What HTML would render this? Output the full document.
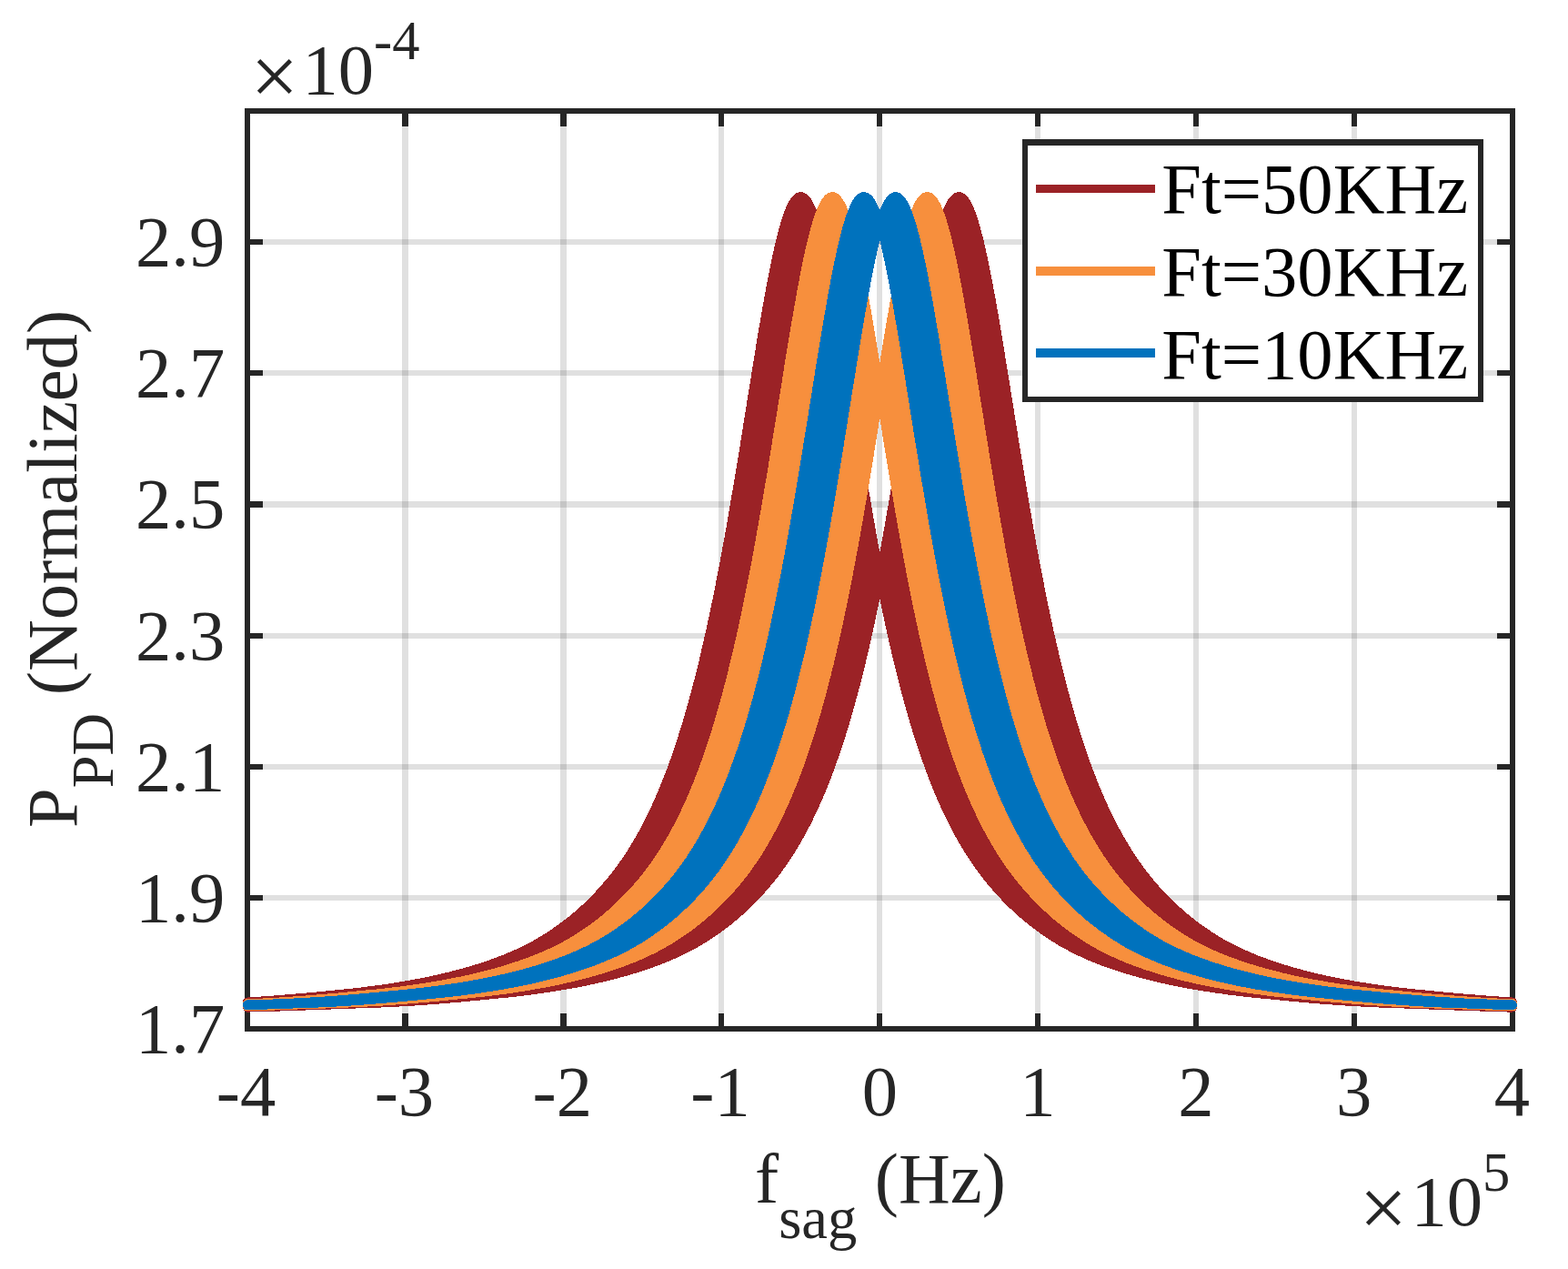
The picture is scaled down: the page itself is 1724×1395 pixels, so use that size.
<!DOCTYPE html>
<html lang="en"><head><meta charset="utf-8"><title>P_PD (Normalized) vs f_sag (Hz)</title>
<style>html,body{margin:0;padding:0;background:#fff}body{width:1724px;height:1395px;overflow:hidden}svg{display:block}text{font-family:"Liberation Serif",serif;fill:#262626;font-size:78.60px}.s{font-size:64.50px}.p{font-size:60.50px}.x{font-size:93.50px}.lg{fill:#000;font-size:78.60px}</style></head><body>
<svg width="1724" height="1395" viewBox="0 0 1724 1395">
<rect width="1724" height="1395" fill="#fff"/>
<g fill="#262626" fill-opacity="0.140" shape-rendering="crispEdges">
<path d="M442 125H449V1128H442ZM616 125H623V1128H616ZM790 125H796V1128H790ZM964 125H970V1128H964ZM1138 125H1144V1128H1138ZM1312 125H1318V1128H1312ZM1486 125H1492V1128H1486Z"/>
<path d="M275 984H1660V990H275ZM275 840H1660V846H275ZM275 696H1660V702H275ZM275 551H1660V558H275ZM275 407H1660V413H275ZM275 263H1660V269H275Z"/>
</g>
<path d="M269 119H1666V125H269ZM269 1128H1666V1134H269ZM269 119H275V1134H269ZM1660 119H1666V1134H1660ZM442 125H449V139H442ZM442 1114H449V1128H442ZM616 125H623V139H616ZM616 1114H623V1128H616ZM790 125H796V139H790ZM790 1114H796V1128H790ZM964 125H970V139H964ZM964 1114H970V1128H964ZM1138 125H1144V139H1138ZM1138 1114H1144V1128H1138ZM1312 125H1318V139H1312ZM1312 1114H1318V1128H1312ZM1486 125H1492V139H1486ZM1486 1114H1492V1128H1486ZM275 984H289V990H275ZM1646 984H1660V990H1646ZM275 840H289V846H275ZM1646 840H1660V846H1646ZM275 696H289V702H275ZM1646 696H1660V702H1646ZM275 551H289V558H275ZM1646 551H1660V558H1646ZM275 407H289V413H275ZM1646 407H1660V413H1646ZM275 263H289V269H275ZM1646 263H1660V269H1646Z" fill="#262626" shape-rendering="crispEdges"/>
<path d="M272 1101.3L274.8 1101.1L277.6 1101L280.3 1100.8L283.1 1100.6L285.9 1100.4L288.7 1100.2L291.5 1100L294.3 1099.8L297 1099.6L299.8 1099.4L302.6 1099.2L305.4 1099L308.2 1098.7L310.9 1098.5L313.7 1098.3L316.5 1098.1L319.3 1097.8L322.1 1097.6L324.9 1097.4L327.6 1097.1L330.4 1096.9L333.2 1096.6L336 1096.4L338.8 1096.1L341.6 1095.9L344.3 1095.6L347.1 1095.4L349.9 1095.1L352.7 1094.8L355.5 1094.5L358.2 1094.3L361 1094L363.8 1093.7L366.6 1093.5L369.4 1093.2L372.2 1092.9L374.9 1092.7L377.7 1092.4L380.5 1092.1L383.3 1091.8L386.1 1091.5L388.8 1091.2L391.6 1090.9L394.4 1090.6L397.2 1090.3L400 1089.9L402.8 1089.6L405.5 1089.2L408.3 1088.9L411.1 1088.5L413.9 1088.1L416.7 1087.8L419.4 1087.4L422.2 1087L425 1086.6L427.8 1086.2L430.6 1085.7L433.4 1085.3L436.1 1084.9L438.9 1084.4L441.7 1084L444.5 1083.5L447.3 1083L450 1082.5L452.8 1082L455.6 1081.5L458.4 1081L461.2 1080.5L464 1080L466.7 1079.4L469.5 1078.9L472.3 1078.3L475.1 1077.7L477.9 1077.1L480.6 1076.5L483.4 1075.8L486.2 1075.2L489 1074.5L491.8 1073.9L494.6 1073.2L497.3 1072.5L500.1 1071.8L502.9 1071.1L505.7 1070.3L508.5 1069.6L511.3 1068.8L514 1068L516.8 1067.2L519.6 1066.4L522.4 1065.5L525.2 1064.7L527.9 1063.8L530.7 1062.9L533.5 1062L536.3 1061L539.1 1060.1L541.9 1059.1L544.6 1058.1L547.4 1057L550.2 1056L553 1054.9L555.8 1053.8L558.5 1052.7L561.3 1051.5L564.1 1050.3L566.9 1049.1L569.7 1047.8L572.5 1046.5L575.2 1045.2L578 1043.9L580.8 1042.5L583.6 1041L586.4 1039.6L589.1 1038L591.9 1036.4L594.7 1034.8L597.5 1033.1L600.3 1031.4L603.1 1029.6L605.8 1027.8L608.6 1025.9L611.4 1024L614.2 1022.1L617 1020.1L619.8 1018L622.5 1016L625.3 1013.8L628.1 1011.6L630.9 1009.3L633.7 1007L636.4 1004.6L639.2 1002.2L642 999.7L644.8 997.1L647.6 994.4L650.4 991.7L653.1 988.9L655.9 986L658.7 983.1L661.5 980.1L664.3 977L667 973.8L669.8 970.6L672.6 967.2L675.4 963.7L678.2 960.2L681 956.5L683.7 952.6L686.5 948.7L689.3 944.6L692.1 940.4L694.9 936.1L697.6 931.6L700.4 927L703.2 922.2L706 917.2L708.8 912.1L711.6 906.8L714.3 901.3L717.1 895.6L719.9 889.8L722.7 883.7L725.5 877.4L728.2 870.9L731 864.2L733.8 857.2L736.6 850L739.4 842.5L742.2 834.8L744.9 826.7L747.7 818.4L750.5 809.8L753.3 800.9L756.1 791.7L758.9 782.2L761.6 772.3L764.4 762.1L767.2 751.5L770 740.6L772.8 729.3L775.5 717.6L778.3 705.5L781.1 693.1L783.9 680.3L786.7 667L789.5 653.4L792.2 639.4L795 624.9L797.8 610.1L800.6 595L803.4 579.4L806.1 563.5L808.9 547.3L811.7 530.8L814.5 514.1L817.3 497.1L820.1 479.9L822.8 462.6L825.6 445.2L828.4 427.8L831.2 410.5L834 393.3L836.7 376.3L839.5 359.7L842.3 343.4L845.1 327.7L847.9 312.6L850.4 299.7L850.7 298.2L850.9 297.1L851.4 294.7L851.9 292.2L852.4 289.8L852.9 287.3L853.4 285L853.4 284.6L853.9 282.6L854.4 280.3L854.9 278L855.4 275.8L855.9 273.6L856.2 272L856.4 271.4L856.9 269.2L857.4 267.1L857.9 265L858.4 263L858.9 261L859 260.4L859.4 259L859.9 257.1L860.4 255.2L860.9 253.3L861.4 251.5L861.8 250L861.9 249.7L862.4 248L862.9 246.3L863.4 244.7L863.9 243.1L864.4 241.5L864.6 240.9L864.9 240L865.4 238.5L865.9 237L866.4 235.6L866.9 234.3L867.3 233L867.4 233L867.9 231.7L868.4 230.5L868.9 229.3L869.4 228.2L869.9 227.2L870.1 226.6L870.4 226.1L870.9 225.2L871.4 224.2L871.9 223.3L872.4 222.5L872.9 221.7L872.9 221.6L873.4 221L873.9 220.3L874.4 219.7L874.9 219.1L875.4 218.6L875.7 218.2L875.9 218.1L876.4 217.6L876.9 217.3L877.4 216.9L877.9 216.6L878.4 216.4L878.5 216.4L878.9 216.2L879.4 216.1L879.9 216L880.4 216L880.9 216L881.3 216.1L881.4 216.1L881.9 216.2L882.4 216.4L882.9 216.6L883.4 216.9L883.9 217.3L884 217.4L884.4 217.6L884.9 218.1L885.4 218.6L885.9 219.1L886.4 219.7L886.8 220.3L886.9 220.3L887.4 221L887.9 221.7L888.4 222.5L888.9 223.3L889.4 224.2L889.6 224.7L889.9 225.2L890.4 226.1L890.9 227.2L891.4 228.2L891.9 229.3L892.4 230.5L892.4 230.6L892.9 231.7L893.4 233L893.9 234.3L894.4 235.6L894.9 237L895.2 237.9L895.4 238.5L895.9 240L896.4 241.5L896.9 243.1L897.4 244.7L897.9 246.3L898 246.6L898.4 248L898.9 249.7L899.4 251.5L899.9 253.3L900.4 255.2L900.7 256.6L900.9 257.1L901.4 259L901.9 261L902.4 263L902.9 265L903.4 267.1L903.5 267.8L903.9 269.2L904.4 271.4L904.9 273.6L905.4 275.8L905.9 278L906.3 280L906.4 280.3L906.9 282.6L907.4 285L907.9 287.3L908.4 289.8L908.9 292.2L909.1 293.2L909.4 294.7L909.9 297.1L910.4 299.7L911.9 307.4L914.6 322.2L917.4 337.8L920.2 353.8L923 370.4L925.8 387.2L928.6 404.3L931.3 421.6L934.1 439L936.9 456.4L937.3 458.9L937.8 462L938.3 465.2L938.8 468.3L939.3 471.4L939.7 473.7L939.8 474.5L940.3 477.6L940.8 480.7L941.3 483.8L941.8 486.9L942.3 490L942.5 491L942.8 493.1L943.3 496.1L943.8 499.2L944.3 502.3L944.8 505.3L945.2 508L945.3 508.4L945.8 511.4L946.3 514.5L946.8 517.5L947.3 520.5L947.8 523.5L948 524.9L948.3 526.5L948.8 529.5L949.3 532.5L949.8 535.5L950.3 538.5L950.8 541.4L950.8 541.5L951.3 544.4L951.8 547.3L952.3 550.3L952.8 553.2L953.3 556.1L953.6 557.8L953.8 559L954.3 561.9L954.8 564.8L955.3 567.7L955.8 570.5L956.3 573.4L956.4 573.8L956.8 576.2L957.3 579.1L957.8 581.9L958.3 584.7L958.8 587.5L959.2 589.5L959.3 590.3L959.8 593L960.3 595.8L960.8 598.6L961.3 601.3L961.8 604L961.9 604.8L962.3 606.7L962.8 609.4L963.3 612.1L963.8 614.8L964.3 617.5L964.7 619.7L964.8 620.1L965.3 622.8L965.8 625.4L966.3 628L966.8 630.6L967.3 633.2L967.5 632.2L967.8 630.6L968.3 628L968.8 625.4L969.3 622.8L969.8 620.1L970.3 617.6L970.3 617.5L970.8 614.8L971.3 612.1L971.8 609.4L972.3 606.7L972.8 604L973.1 602.6L973.3 601.3L973.8 598.6L974.3 595.8L974.8 593L975.3 590.3L975.8 587.5L975.8 587.2L976.3 584.7L976.8 581.9L977.3 579.1L977.8 576.2L978.3 573.4L978.6 571.5L978.8 570.5L979.3 567.7L979.8 564.8L980.3 561.9L980.8 559L981.3 556.1L981.4 555.5L981.8 553.2L982.3 550.3L982.8 547.3L983.3 544.4L983.8 541.4L984.2 539.1L984.3 538.5L984.8 535.5L985.3 532.5L985.8 529.5L986.3 526.5L986.8 523.5L987 522.5L987.3 520.5L987.8 517.5L988.3 514.5L988.8 511.4L989.3 508.4L989.8 505.6L989.8 505.3L990.3 502.3L990.8 499.2L991.3 496.1L991.8 493.1L992.3 490L992.5 488.5L992.8 486.9L993.3 483.8L993.8 480.7L994.3 477.6L994.8 474.5L995.3 471.4L995.3 471.3L995.8 468.3L996.3 465.2L996.8 462L997.3 458.9L998.1 453.9L1000.9 436.5L1003.7 419.1L1006.4 401.9L1009.2 384.8L1012 368L1014.8 351.5L1017.6 335.5L1020.4 320L1023.1 305.3L1024.2 299.7L1024.7 297.1L1025.2 294.7L1025.7 292.2L1025.9 291.3L1026.2 289.8L1026.7 287.3L1027.2 285L1027.7 282.6L1028.2 280.3L1028.7 278.2L1028.7 278L1029.2 275.8L1029.7 273.6L1030.2 271.4L1030.7 269.2L1031.2 267.1L1031.5 266.1L1031.7 265L1032.2 263L1032.7 261L1033.2 259L1033.7 257.1L1034.2 255.2L1034.3 255.1L1034.7 253.3L1035.2 251.5L1035.7 249.7L1036.2 248L1036.7 246.3L1037 245.3L1037.2 244.7L1037.7 243.1L1038.2 241.5L1038.7 240L1039.2 238.5L1039.7 237L1039.8 236.8L1040.2 235.6L1040.7 234.3L1041.2 233L1041.7 231.7L1042.2 230.5L1042.6 229.6L1042.7 229.3L1043.2 228.2L1043.7 227.2L1044.2 226.1L1044.7 225.2L1045.2 224.2L1045.4 223.9L1045.7 223.3L1046.2 222.5L1046.7 221.7L1047.2 221L1047.7 220.3L1048.2 219.7L1048.2 219.7L1048.7 219.1L1049.2 218.6L1049.7 218.1L1050.2 217.6L1050.7 217.3L1051 217.1L1051.2 216.9L1051.7 216.6L1052.2 216.4L1052.7 216.2L1053.2 216.1L1053.7 216L1053.7 216L1054.2 216L1054.7 216L1055.2 216.1L1055.7 216.2L1056.2 216.4L1056.5 216.5L1056.7 216.6L1057.2 216.9L1057.7 217.3L1058.2 217.6L1058.7 218.1L1059.2 218.6L1059.3 218.6L1059.7 219.1L1060.2 219.7L1060.7 220.3L1061.2 221L1061.7 221.7L1062.1 222.3L1062.2 222.5L1062.7 223.3L1063.2 224.2L1063.7 225.2L1064.2 226.1L1064.7 227.2L1064.9 227.4L1065.2 228.2L1065.7 229.3L1066.2 230.5L1066.7 231.7L1067.2 233L1067.7 234.1L1067.7 234.3L1068.2 235.6L1068.7 237L1069.2 238.5L1069.7 240L1070.2 241.5L1070.4 242.1L1070.7 243.1L1071.2 244.7L1071.7 246.3L1072.2 248L1072.7 249.7L1073.2 251.4L1073.2 251.5L1073.7 253.3L1074.2 255.2L1074.7 257.1L1075.2 259L1075.7 261L1076 262L1076.2 263L1076.7 265L1077.2 267.1L1077.7 269.2L1078.2 271.4L1078.7 273.6L1078.8 273.8L1079.2 275.8L1079.7 278L1080.2 280.3L1080.7 282.6L1081.2 285L1081.6 286.5L1081.7 287.3L1082.2 289.8L1082.7 292.2L1083.2 294.7L1083.7 297.1L1084.2 299.7L1084.3 300.2L1087.1 314.7L1089.9 329.9L1092.7 345.7L1095.5 362L1098.3 378.8L1101 395.8L1103.8 413L1106.6 430.3L1109.4 447.7L1112.2 465.1L1114.9 482.4L1117.7 499.5L1120.5 516.5L1123.3 533.2L1126.1 549.7L1128.9 565.8L1131.6 581.7L1134.4 597.2L1137.2 612.3L1140 627L1142.8 641.4L1145.5 655.4L1148.3 668.9L1151.1 682.1L1153.9 694.9L1156.7 707.3L1159.5 719.3L1162.2 730.9L1165 742.2L1167.8 753.1L1170.6 763.6L1173.4 773.7L1176.2 783.6L1178.9 793.1L1181.7 802.2L1184.5 811.1L1187.3 819.6L1190.1 827.9L1192.8 835.9L1195.6 843.6L1198.4 851L1201.2 858.2L1204 865.2L1206.8 871.9L1209.5 878.3L1212.3 884.6L1215.1 890.6L1217.9 896.5L1220.7 902.1L1223.4 907.6L1226.2 912.8L1229 917.9L1231.8 922.9L1234.6 927.6L1237.4 932.3L1240.1 936.7L1242.9 941L1245.7 945.2L1248.5 949.3L1251.3 953.2L1254 957L1256.8 960.7L1259.6 964.2L1262.4 967.7L1265.2 971.1L1268 974.3L1270.7 977.5L1273.5 980.5L1276.3 983.5L1279.1 986.5L1281.9 989.3L1284.6 992.1L1287.4 994.8L1290.2 997.4L1293 1000L1295.8 1002.5L1298.6 1005L1301.3 1007.4L1304.1 1009.7L1306.9 1011.9L1309.7 1014.1L1312.5 1016.3L1315.2 1018.3L1318 1020.4L1320.8 1022.3L1323.6 1024.3L1326.4 1026.2L1329.2 1028.1L1331.9 1029.9L1334.7 1031.6L1337.5 1033.4L1340.3 1035L1343.1 1036.7L1345.9 1038.2L1348.6 1039.8L1351.4 1041.2L1354.2 1042.7L1357 1044.1L1359.8 1045.4L1362.5 1046.7L1365.3 1048L1368.1 1049.2L1370.9 1050.5L1373.7 1051.7L1376.5 1052.8L1379.2 1054L1382 1055.1L1384.8 1056.1L1387.6 1057.2L1390.4 1058.2L1393.1 1059.2L1395.9 1060.2L1398.7 1061.2L1401.5 1062.1L1404.3 1063L1407.1 1063.9L1409.8 1064.8L1412.6 1065.6L1415.4 1066.5L1418.2 1067.3L1421 1068.1L1423.7 1068.9L1426.5 1069.7L1429.3 1070.4L1432.1 1071.2L1434.9 1071.9L1437.7 1072.6L1440.4 1073.3L1443.2 1074L1446 1074.6L1448.8 1075.3L1451.6 1075.9L1454.3 1076.6L1457.1 1077.2L1459.9 1077.8L1462.7 1078.4L1465.5 1078.9L1468.3 1079.5L1471 1080L1473.8 1080.6L1476.6 1081.1L1479.4 1081.6L1482.2 1082.1L1485 1082.6L1487.7 1083.1L1490.5 1083.6L1493.3 1084L1496.1 1084.5L1498.9 1084.9L1501.6 1085.4L1504.4 1085.8L1507.2 1086.2L1510 1086.6L1512.8 1087L1515.6 1087.4L1518.3 1087.8L1521.1 1088.2L1523.9 1088.6L1526.7 1088.9L1529.5 1089.3L1532.2 1089.6L1535 1090L1537.8 1090.3L1540.6 1090.7L1543.4 1091L1546.2 1091.3L1548.9 1091.6L1551.7 1091.9L1554.5 1092.2L1557.3 1092.4L1560.1 1092.7L1562.8 1093L1565.6 1093.2L1568.4 1093.5L1571.2 1093.8L1574 1094L1576.8 1094.3L1579.5 1094.6L1582.3 1094.9L1585.1 1095.1L1587.9 1095.4L1590.7 1095.7L1593.5 1095.9L1596.2 1096.2L1599 1096.4L1601.8 1096.7L1604.6 1096.9L1607.4 1097.2L1610.1 1097.4L1612.9 1097.6L1615.7 1097.9L1618.5 1098.1L1621.3 1098.3L1624.1 1098.6L1626.8 1098.8L1629.6 1099L1632.4 1099.2L1635.2 1099.4L1638 1099.6L1640.7 1099.8L1643.5 1100L1646.3 1100.2L1649.1 1100.4L1651.9 1100.6L1654.7 1100.8L1657.4 1101L1660.2 1101.2L1663 1101.3L1663 1107.8L1660.2 1107.7L1657.4 1107.7L1654.7 1107.6L1651.9 1107.5L1649.1 1107.4L1646.3 1107.3L1643.5 1107.2L1640.7 1107.1L1638 1107L1635.2 1107L1632.4 1106.9L1629.6 1106.8L1626.8 1106.7L1624.1 1106.6L1621.3 1106.5L1618.5 1106.4L1615.7 1106.3L1612.9 1106.2L1610.1 1106.1L1607.4 1106L1604.6 1105.9L1601.8 1105.8L1599 1105.7L1596.2 1105.6L1593.5 1105.5L1590.7 1105.4L1587.9 1105.3L1585.1 1105.2L1582.3 1105.1L1579.5 1105L1576.8 1104.9L1574 1104.8L1571.2 1104.7L1568.4 1104.6L1565.6 1104.5L1562.8 1104.4L1560.1 1104.3L1557.3 1104.2L1554.5 1104.1L1551.7 1104L1548.9 1103.9L1546.2 1103.8L1543.4 1103.7L1540.6 1103.6L1537.8 1103.5L1535 1103.4L1532.2 1103.4L1529.5 1103.2L1526.7 1103.1L1523.9 1103L1521.1 1102.9L1518.3 1102.8L1515.6 1102.7L1512.8 1102.6L1510 1102.5L1507.2 1102.3L1504.4 1102.2L1501.6 1102L1498.9 1101.9L1496.1 1101.7L1493.3 1101.6L1490.5 1101.4L1487.7 1101.2L1485 1101.1L1482.2 1100.9L1479.4 1100.7L1476.6 1100.5L1473.8 1100.3L1471 1100.1L1468.3 1099.9L1465.5 1099.7L1462.7 1099.5L1459.9 1099.3L1457.1 1099.1L1454.3 1098.9L1451.6 1098.7L1448.8 1098.4L1446 1098.2L1443.2 1098L1440.4 1097.8L1437.7 1097.5L1434.9 1097.3L1432.1 1097L1429.3 1096.8L1426.5 1096.5L1423.7 1096.3L1421 1096L1418.2 1095.8L1415.4 1095.5L1412.6 1095.3L1409.8 1095L1407.1 1094.7L1404.3 1094.5L1401.5 1094.2L1398.7 1093.9L1395.9 1093.6L1393.1 1093.4L1390.4 1093.1L1387.6 1092.8L1384.8 1092.6L1382 1092.3L1379.2 1092L1376.5 1091.7L1373.7 1091.4L1370.9 1091.1L1368.1 1090.8L1365.3 1090.5L1362.5 1090.2L1359.8 1089.8L1357 1089.5L1354.2 1089.1L1351.4 1088.8L1348.6 1088.4L1345.9 1088L1343.1 1087.6L1340.3 1087.2L1337.5 1086.8L1334.7 1086.4L1331.9 1086L1329.2 1085.6L1326.4 1085.1L1323.6 1084.7L1320.8 1084.3L1318 1083.8L1315.2 1083.3L1312.5 1082.9L1309.7 1082.4L1306.9 1081.9L1304.1 1081.4L1301.3 1080.8L1298.6 1080.3L1295.8 1079.8L1293 1079.2L1290.2 1078.7L1287.4 1078.1L1284.6 1077.5L1281.9 1076.9L1279.1 1076.2L1276.3 1075.6L1273.5 1075L1270.7 1074.3L1268 1073.6L1265.2 1072.9L1262.4 1072.2L1259.6 1071.5L1256.8 1070.8L1254 1070L1251.3 1069.3L1248.5 1068.5L1245.7 1067.7L1242.9 1066.9L1240.1 1066.1L1237.4 1065.2L1234.6 1064.4L1231.8 1063.5L1229 1062.6L1226.2 1061.6L1223.4 1060.7L1220.7 1059.7L1217.9 1058.7L1215.1 1057.7L1212.3 1056.7L1209.5 1055.6L1206.8 1054.5L1204 1053.4L1201.2 1052.2L1198.4 1051.1L1195.6 1049.9L1192.8 1048.6L1190.1 1047.4L1187.3 1046.1L1184.5 1044.7L1181.7 1043.4L1178.9 1042L1176.2 1040.5L1173.4 1039L1170.6 1037.5L1167.8 1035.9L1165 1034.2L1162.2 1032.5L1159.5 1030.8L1156.7 1029L1153.9 1027.1L1151.1 1025.2L1148.3 1023.3L1145.5 1021.4L1142.8 1019.4L1140 1017.3L1137.2 1015.2L1134.4 1013L1131.6 1010.8L1128.9 1008.5L1126.1 1006.2L1123.3 1003.8L1120.5 1001.3L1117.7 998.7L1114.9 996.1L1112.2 993.5L1109.4 990.7L1106.6 987.9L1103.8 985L1101 982L1098.3 979L1095.5 975.9L1092.7 972.7L1089.9 969.4L1087.1 966L1084.3 962.5L1084.2 962.3L1083.7 961.7L1083.2 961.1L1082.7 960.4L1082.2 959.7L1081.7 959.1L1081.6 958.9L1081.2 958.4L1080.7 957.8L1080.2 957.1L1079.7 956.4L1079.2 955.7L1078.8 955.1L1078.7 955.1L1078.2 954.4L1077.7 953.7L1077.2 953L1076.7 952.3L1076.2 951.6L1076 951.3L1075.7 950.9L1075.2 950.2L1074.7 949.5L1074.2 948.7L1073.7 948L1073.2 947.3L1073.2 947.3L1072.7 946.6L1072.2 945.8L1071.7 945.1L1071.2 944.4L1070.7 943.6L1070.4 943.2L1070.2 942.9L1069.7 942.1L1069.2 941.3L1068.7 940.6L1068.2 939.8L1067.7 939L1067.7 938.9L1067.2 938.3L1066.7 937.5L1066.2 936.7L1065.7 935.9L1065.2 935.1L1064.9 934.5L1064.7 934.3L1064.2 933.5L1063.7 932.7L1063.2 931.9L1062.7 931L1062.2 930.2L1062.1 930L1061.7 929.4L1061.2 928.6L1060.7 927.7L1060.2 926.9L1059.7 926L1059.3 925.3L1059.2 925.2L1058.7 924.3L1058.2 923.4L1057.7 922.6L1057.2 921.7L1056.7 920.8L1056.5 920.4L1056.2 919.9L1055.7 919L1055.2 918.1L1054.7 917.2L1054.2 916.3L1053.7 915.4L1053.7 915.4L1053.2 914.5L1052.7 913.6L1052.2 912.6L1051.7 911.7L1051.2 910.8L1051 910.2L1050.7 909.8L1050.2 908.9L1049.7 907.9L1049.2 906.9L1048.7 906L1048.2 905L1048.2 904.9L1047.7 904L1047.2 903L1046.7 902L1046.2 901L1045.7 900L1045.4 899.3L1045.2 899L1044.7 898L1044.2 896.9L1043.7 895.9L1043.2 894.9L1042.7 893.8L1042.6 893.6L1042.2 892.8L1041.7 891.7L1041.2 890.7L1040.7 889.6L1040.2 888.5L1039.8 887.6L1039.7 887.4L1039.2 886.3L1038.7 885.2L1038.2 884.1L1037.7 883L1037.2 881.9L1037 881.5L1036.7 880.8L1036.2 879.7L1035.7 878.5L1035.2 877.4L1034.7 876.2L1034.3 875.1L1034.2 875.1L1033.7 873.9L1033.2 872.7L1032.7 871.5L1032.2 870.3L1031.7 869.1L1031.5 868.5L1031.2 867.9L1030.7 866.7L1030.2 865.5L1029.7 864.3L1029.2 863L1028.7 861.8L1028.7 861.7L1028.2 860.6L1027.7 859.3L1027.2 858L1026.7 856.8L1026.2 855.5L1025.9 854.7L1025.7 854.2L1025.2 852.9L1024.7 851.6L1024.2 850.3L1023.1 847.3L1020.4 839.8L1017.6 831.9L1014.8 823.8L1012 815.4L1009.2 806.7L1006.4 797.7L1003.7 788.4L1000.9 778.7L998.1 768.7L997.3 765.8L996.8 763.9L996.3 762L995.8 760.2L995.3 758.4L995.3 758.3L994.8 756.4L994.3 754.5L993.8 752.6L993.3 750.6L992.8 748.7L992.5 747.7L992.3 746.7L991.8 744.8L991.3 742.8L990.8 740.8L990.3 738.8L989.8 736.8L989.8 736.6L989.3 734.8L988.8 732.7L988.3 730.7L987.8 728.6L987.3 726.5L987 725.2L986.8 724.4L986.3 722.3L985.8 720.2L985.3 718.1L984.8 716L984.3 713.8L984.2 713.4L983.8 711.7L983.3 709.5L982.8 707.3L982.3 705.1L981.8 702.9L981.4 701.2L981.3 700.7L980.8 698.4L980.3 696.2L979.8 693.9L979.3 691.6L978.8 689.4L978.6 688.6L978.3 687.1L977.8 684.7L977.3 682.4L976.8 680.1L976.3 677.7L975.8 675.6L975.8 675.4L975.3 673L974.8 670.6L974.3 668.2L973.8 665.8L973.3 663.4L973.1 662.2L972.8 660.9L972.3 658.5L971.8 656L971.3 653.5L970.8 651L970.3 648.5L970.3 648.4L969.8 646L969.3 643.5L968.8 640.9L968.3 638.4L967.8 635.8L967.5 634.3L967.3 633.2L966.8 635.8L966.3 638.4L965.8 640.9L965.3 643.5L964.8 646L964.7 646.4L964.3 648.5L963.8 651L963.3 653.5L962.8 656L962.3 658.5L961.9 660.2L961.8 660.9L961.3 663.4L960.8 665.8L960.3 668.2L959.8 670.6L959.3 673L959.2 673.7L958.8 675.4L958.3 677.7L957.8 680.1L957.3 682.4L956.8 684.7L956.4 686.7L956.3 687.1L955.8 689.4L955.3 691.6L954.8 693.9L954.3 696.2L953.8 698.4L953.6 699.4L953.3 700.7L952.8 702.9L952.3 705.1L951.8 707.3L951.3 709.5L950.8 711.6L950.8 711.7L950.3 713.8L949.8 716L949.3 718.1L948.8 720.2L948.3 722.3L948 723.5L947.8 724.4L947.3 726.5L946.8 728.6L946.3 730.7L945.8 732.7L945.3 734.8L945.2 735L944.8 736.8L944.3 738.8L943.8 740.8L943.3 742.8L942.8 744.8L942.5 746.1L942.3 746.7L941.8 748.7L941.3 750.6L940.8 752.6L940.3 754.5L939.8 756.4L939.7 756.8L939.3 758.3L938.8 760.2L938.3 762L937.8 763.9L937.3 765.8L936.9 767.2L934.1 777.3L931.3 787L928.6 796.4L925.8 805.4L923 814.2L920.2 822.6L917.4 830.8L914.6 838.7L911.9 846.3L910.4 850.3L909.9 851.6L909.4 852.9L909.1 853.6L908.9 854.2L908.4 855.5L907.9 856.8L907.4 858L906.9 859.3L906.4 860.6L906.3 860.7L905.9 861.8L905.4 863L904.9 864.3L904.4 865.5L903.9 866.7L903.5 867.6L903.4 867.9L902.9 869.1L902.4 870.3L901.9 871.5L901.4 872.7L900.9 873.9L900.7 874.2L900.4 875.1L899.9 876.2L899.4 877.4L898.9 878.5L898.4 879.7L898 880.6L897.9 880.8L897.4 881.9L896.9 883L896.4 884.1L895.9 885.2L895.4 886.3L895.2 886.8L894.9 887.4L894.4 888.5L893.9 889.6L893.4 890.7L892.9 891.7L892.4 892.7L892.4 892.8L891.9 893.8L891.4 894.9L890.9 895.9L890.4 896.9L889.9 898L889.6 898.5L889.4 899L888.9 900L888.4 901L887.9 902L887.4 903L886.9 904L886.8 904.1L886.4 905L885.9 906L885.4 906.9L884.9 907.9L884.4 908.9L884 909.5L883.9 909.8L883.4 910.8L882.9 911.7L882.4 912.6L881.9 913.6L881.4 914.5L881.3 914.7L880.9 915.4L880.4 916.3L879.9 917.2L879.4 918.1L878.9 919L878.5 919.7L878.4 919.9L877.9 920.8L877.4 921.7L876.9 922.6L876.4 923.4L875.9 924.3L875.7 924.6L875.4 925.2L874.9 926L874.4 926.9L873.9 927.7L873.4 928.6L872.9 929.3L872.9 929.4L872.4 930.2L871.9 931L871.4 931.9L870.9 932.7L870.4 933.5L870.1 933.9L869.9 934.3L869.4 935.1L868.9 935.9L868.4 936.7L867.9 937.5L867.4 938.3L867.3 938.3L866.9 939L866.4 939.8L865.9 940.6L865.4 941.3L864.9 942.1L864.6 942.5L864.4 942.9L863.9 943.6L863.4 944.4L862.9 945.1L862.4 945.8L861.9 946.6L861.8 946.7L861.4 947.3L860.9 948L860.4 948.7L859.9 949.5L859.4 950.2L859 950.7L858.9 950.9L858.4 951.6L857.9 952.3L857.4 953L856.9 953.7L856.4 954.4L856.2 954.6L855.9 955.1L855.4 955.7L854.9 956.4L854.4 957.1L853.9 957.8L853.4 958.3L853.4 958.4L852.9 959.1L852.4 959.7L851.9 960.4L851.4 961.1L850.9 961.7L850.7 962L850.4 962.3L847.9 965.5L845.1 968.9L842.3 972.2L839.5 975.4L836.7 978.6L834 981.6L831.2 984.6L828.4 987.5L825.6 990.3L822.8 993.1L820.1 995.7L817.3 998.4L814.5 1000.9L811.7 1003.4L808.9 1005.8L806.1 1008.2L803.4 1010.5L800.6 1012.7L797.8 1014.9L795 1017L792.2 1019.1L789.5 1021.1L786.7 1023L783.9 1025L781.1 1026.9L778.3 1028.7L775.5 1030.5L772.8 1032.3L770 1034L767.2 1035.6L764.4 1037.2L761.6 1038.8L758.9 1040.3L756.1 1041.8L753.3 1043.2L750.5 1044.5L747.7 1045.9L744.9 1047.2L742.2 1048.4L739.4 1049.7L736.6 1050.9L733.8 1052.1L731 1053.2L728.2 1054.3L725.5 1055.4L722.7 1056.5L719.9 1057.6L717.1 1058.6L714.3 1059.6L711.6 1060.6L708.8 1061.5L706 1062.4L703.2 1063.3L700.4 1064.2L697.6 1065.1L694.9 1065.9L692.1 1066.8L689.3 1067.6L686.5 1068.4L683.7 1069.2L681 1069.9L678.2 1070.7L675.4 1071.4L672.6 1072.1L669.8 1072.8L667 1073.5L664.3 1074.2L661.5 1074.9L658.7 1075.5L655.9 1076.2L653.1 1076.8L650.4 1077.4L647.6 1078L644.8 1078.6L642 1079.1L639.2 1079.7L636.4 1080.2L633.7 1080.8L630.9 1081.3L628.1 1081.8L625.3 1082.3L622.5 1082.8L619.8 1083.3L617 1083.7L614.2 1084.2L611.4 1084.6L608.6 1085.1L605.8 1085.5L603.1 1085.9L600.3 1086.4L597.5 1086.8L594.7 1087.2L591.9 1087.6L589.1 1088L586.4 1088.3L583.6 1088.7L580.8 1089.1L578 1089.4L575.2 1089.8L572.5 1090.1L569.7 1090.4L566.9 1090.8L564.1 1091.1L561.3 1091.4L558.5 1091.7L555.8 1092L553 1092.3L550.2 1092.5L547.4 1092.8L544.6 1093.1L541.9 1093.3L539.1 1093.6L536.3 1093.9L533.5 1094.1L530.7 1094.4L527.9 1094.7L525.2 1095L522.4 1095.2L519.6 1095.5L516.8 1095.7L514 1096L511.3 1096.3L508.5 1096.5L505.7 1096.8L502.9 1097L500.1 1097.2L497.3 1097.5L494.6 1097.7L491.8 1098L489 1098.2L486.2 1098.4L483.4 1098.6L480.6 1098.9L477.9 1099.1L475.1 1099.3L472.3 1099.5L469.5 1099.7L466.7 1099.9L464 1100.1L461.2 1100.3L458.4 1100.5L455.6 1100.7L452.8 1100.9L450 1101L447.3 1101.2L444.5 1101.4L441.7 1101.6L438.9 1101.7L436.1 1101.9L433.4 1102L430.6 1102.2L427.8 1102.3L425 1102.4L422.2 1102.6L419.4 1102.7L416.7 1102.8L413.9 1102.9L411.1 1103L408.3 1103.1L405.5 1103.2L402.8 1103.3L400 1103.4L397.2 1103.5L394.4 1103.6L391.6 1103.7L388.8 1103.8L386.1 1103.9L383.3 1104L380.5 1104.1L377.7 1104.2L374.9 1104.3L372.2 1104.4L369.4 1104.5L366.6 1104.6L363.8 1104.7L361 1104.8L358.2 1104.9L355.5 1105L352.7 1105.1L349.9 1105.2L347.1 1105.3L344.3 1105.4L341.6 1105.5L338.8 1105.6L336 1105.7L333.2 1105.8L330.4 1105.9L327.6 1106L324.9 1106.1L322.1 1106.2L319.3 1106.3L316.5 1106.4L313.7 1106.5L310.9 1106.6L308.2 1106.7L305.4 1106.8L302.6 1106.8L299.8 1106.9L297 1107L294.3 1107.1L291.5 1107.2L288.7 1107.3L285.9 1107.4L283.1 1107.5L280.3 1107.6L277.6 1107.6L274.8 1107.7L272 1107.8Z" fill="#9b2226" stroke="#9b2226" stroke-width="9.60" stroke-linejoin="round" shape-rendering="crispEdges"/>
<path d="M272 1103L274.8 1102.9L277.6 1102.8L280.3 1102.7L283.1 1102.6L285.9 1102.4L288.7 1102.3L291.5 1102.2L294.3 1102L297 1101.9L299.8 1101.7L302.6 1101.6L305.4 1101.4L308.2 1101.2L310.9 1101L313.7 1100.9L316.5 1100.7L319.3 1100.5L322.1 1100.3L324.9 1100.1L327.6 1099.9L330.4 1099.7L333.2 1099.5L336 1099.3L338.8 1099.1L341.6 1098.9L344.3 1098.6L347.1 1098.4L349.9 1098.2L352.7 1098L355.5 1097.7L358.2 1097.5L361 1097.2L363.8 1097L366.6 1096.8L369.4 1096.5L372.2 1096.3L374.9 1096L377.7 1095.7L380.5 1095.5L383.3 1095.2L386.1 1095L388.8 1094.7L391.6 1094.4L394.4 1094.1L397.2 1093.9L400 1093.6L402.8 1093.3L405.5 1093.1L408.3 1092.8L411.1 1092.5L413.9 1092.3L416.7 1092L419.4 1091.7L422.2 1091.4L425 1091.1L427.8 1090.8L430.6 1090.4L433.4 1090.1L436.1 1089.8L438.9 1089.4L441.7 1089.1L444.5 1088.7L447.3 1088.3L450 1088L452.8 1087.6L455.6 1087.2L458.4 1086.8L461.2 1086.4L464 1085.9L466.7 1085.5L469.5 1085.1L472.3 1084.6L475.1 1084.2L477.9 1083.7L480.6 1083.3L483.4 1082.8L486.2 1082.3L489 1081.8L491.8 1081.3L494.6 1080.8L497.3 1080.2L500.1 1079.7L502.9 1079.1L505.7 1078.6L508.5 1078L511.3 1077.4L514 1076.8L516.8 1076.2L519.6 1075.5L522.4 1074.9L525.2 1074.2L527.9 1073.5L530.7 1072.8L533.5 1072.1L536.3 1071.4L539.1 1070.7L541.9 1069.9L544.6 1069.2L547.4 1068.4L550.2 1067.6L553 1066.8L555.8 1065.9L558.5 1065.1L561.3 1064.2L564.1 1063.3L566.9 1062.4L569.7 1061.5L572.5 1060.6L575.2 1059.6L578 1058.6L580.8 1057.6L583.6 1056.5L586.4 1055.4L589.1 1054.3L591.9 1053.2L594.7 1052.1L597.5 1050.9L600.3 1049.7L603.1 1048.4L605.8 1047.2L608.6 1045.9L611.4 1044.5L614.2 1043.2L617 1041.8L619.8 1040.3L622.5 1038.8L625.3 1037.2L628.1 1035.6L630.9 1034L633.7 1032.3L636.4 1030.5L639.2 1028.7L642 1026.9L644.8 1025L647.6 1023L650.4 1021.1L653.1 1019.1L655.9 1017L658.7 1014.9L661.5 1012.7L664.3 1010.5L667 1008.2L669.8 1005.8L672.6 1003.4L675.4 1000.9L678.2 998.4L681 995.7L683.7 993.1L686.5 990.3L689.3 987.5L692.1 984.6L694.9 981.6L697.6 978.6L700.4 975.4L703.2 972.2L706 968.9L708.8 965.5L711.6 962L714.3 958.3L717.1 954.6L719.9 950.7L722.7 946.7L725.5 942.5L728.2 938.3L731 933.9L733.8 929.3L736.6 924.6L739.4 919.7L742.2 914.7L744.9 909.5L747.7 904.1L750.5 898.5L753.3 892.7L756.1 886.8L758.9 880.6L761.6 874.2L764.4 867.6L767.2 860.7L770 853.6L772.8 846.3L775.5 838.7L778.3 830.8L781.1 822.6L783.9 814.2L786.7 805.4L789.5 796.4L792.2 787L795 777.3L797.8 767.2L800.6 756.8L803.4 746.1L806.1 735L808.9 723.5L811.7 711.6L814.5 699.4L817.3 686.7L820.1 673.7L822.8 660.2L825.6 646.4L828.4 632.2L831.2 617.6L834 602.6L836.7 587.2L839.5 571.5L842.3 555.5L845.1 539.1L847.9 522.5L850.7 505.6L853.4 488.5L856.2 471.3L859 453.9L861.8 436.5L864.6 419.1L867.3 401.9L870.1 384.8L872.9 368L875.7 351.5L878.5 335.5L881.3 320L884 305.3L885.1 299.7L885.6 297.1L886.1 294.7L886.6 292.2L886.8 291.3L887.1 289.8L887.6 287.3L888.1 285L888.6 282.6L889.1 280.3L889.6 278.2L889.6 278L890.1 275.8L890.6 273.6L891.1 271.4L891.6 269.2L892.1 267.1L892.4 266.1L892.6 265L893.1 263L893.6 261L894.1 259L894.6 257.1L895.1 255.2L895.2 255.1L895.6 253.3L896.1 251.5L896.6 249.7L897.1 248L897.6 246.3L898 245.3L898.1 244.7L898.6 243.1L899.1 241.5L899.6 240L900.1 238.5L900.6 237L900.7 236.8L901.1 235.6L901.6 234.3L902.1 233L902.6 231.7L903.1 230.5L903.5 229.6L903.6 229.3L904.1 228.2L904.6 227.2L905.1 226.1L905.6 225.2L906.1 224.2L906.3 223.9L906.6 223.3L907.1 222.5L907.6 221.7L908.1 221L908.6 220.3L909.1 219.7L909.1 219.7L909.6 219.1L910.1 218.6L910.6 218.1L911.1 217.6L911.6 217.3L911.9 217.1L912.1 216.9L912.6 216.6L913.1 216.4L913.6 216.2L914.1 216.1L914.6 216L914.6 216L915.1 216L915.6 216L916.1 216.1L916.6 216.2L917.1 216.4L917.4 216.5L917.6 216.6L918.1 216.9L918.6 217.3L919.1 217.6L919.6 218.1L920.1 218.6L920.2 218.6L920.6 219.1L921.1 219.7L921.6 220.3L922.1 221L922.6 221.7L923 222.3L923.1 222.5L923.6 223.3L924.1 224.2L924.6 225.2L925.1 226.1L925.6 227.2L925.8 227.4L926.1 228.2L926.6 229.3L927.1 230.5L927.6 231.7L928.1 233L928.6 234.1L928.6 234.3L929.1 235.6L929.6 237L930.1 238.5L930.6 240L931.1 241.5L931.3 242.1L931.6 243.1L932.1 244.7L932.6 246.3L933.1 248L933.6 249.7L934.1 251.4L934.1 251.5L934.6 253.3L935.1 255.2L935.6 257.1L936.1 259L936.6 261L936.9 262L937.1 263L937.3 263.7L937.6 265L937.8 265.7L938.1 267.1L938.3 267.8L938.6 269.2L938.8 269.9L939.1 271.4L939.3 272.1L939.6 273.6L939.7 273.8L939.8 274.3L940.1 275.8L940.3 276.5L940.6 278L940.8 278.8L941.1 280.3L941.3 281.1L941.6 282.6L941.8 283.4L942.1 285L942.3 285.7L942.5 286.5L942.6 287.3L942.8 288.1L943.1 289.8L943.3 290.5L943.6 292.2L943.8 293L944.1 294.7L944.3 295.5L944.6 297.1L944.8 298L945.1 299.7L945.2 300.2L945.3 300.5L945.8 303L946.3 305.6L946.8 308.2L947.3 310.8L947.8 313.5L948 314.7L948.3 316.2L948.8 318.9L949.3 321.6L949.8 324.3L950.3 327.1L950.8 329.9L950.8 329.9L951.3 332.7L951.8 335.5L952.3 338.3L952.8 341.2L953.3 344.1L953.6 345.7L953.8 346.9L954.3 349.9L954.8 352.8L955.3 355.7L955.8 358.7L956.3 361.6L956.4 362L956.8 364.6L957.3 367.6L957.8 370.6L958.3 373.6L958.8 376.6L959.2 378.8L959.3 379.6L959.8 382.7L960.3 385.7L960.8 388.8L961.3 391.8L961.8 394.9L961.9 395.8L962.3 398L962.8 401.1L963.3 404.2L963.8 407.3L964.3 410.4L964.7 413L964.8 413.5L965.3 416.6L965.8 419.7L966.3 422.8L966.8 425.9L967.3 429.1L967.5 427.8L967.8 425.9L968.3 422.8L968.8 419.7L969.3 416.6L969.8 413.5L970.3 410.5L970.3 410.4L970.8 407.3L971.3 404.2L971.8 401.1L972.3 398L972.8 394.9L973.1 393.3L973.3 391.8L973.8 388.8L974.3 385.7L974.8 382.7L975.3 379.6L975.8 376.6L975.8 376.3L976.3 373.6L976.8 370.6L977.3 367.6L977.8 364.6L978.3 361.6L978.6 359.7L978.8 358.7L979.3 355.7L979.8 352.8L980.3 349.9L980.8 346.9L981.3 344.1L981.4 343.4L981.8 341.2L982.3 338.3L982.8 335.5L983.3 332.7L983.8 329.9L984.2 327.7L984.3 327.1L984.8 324.3L985.3 321.6L985.8 318.9L986.3 316.2L986.8 313.5L987 312.6L987.3 310.8L987.8 308.2L988.3 305.6L988.8 303L989.3 300.5L989.5 299.7L989.8 298.2L989.8 298L990 297.1L990.3 295.5L990.5 294.7L990.8 293L991 292.2L991.3 290.5L991.5 289.8L991.8 288.1L992 287.3L992.3 285.7L992.5 285L992.5 284.6L992.8 283.4L993 282.6L993.3 281.1L993.5 280.3L993.8 278.8L994 278L994.3 276.5L994.5 275.8L994.8 274.3L995 273.6L995.3 272.1L995.3 272L995.5 271.4L995.8 269.9L996 269.2L996.3 267.8L996.5 267.1L996.8 265.7L997 265L997.3 263.7L997.5 263L998 261L998.1 260.4L998.5 259L999 257.1L999.5 255.2L1000 253.3L1000.5 251.5L1000.9 250L1001 249.7L1001.5 248L1002 246.3L1002.5 244.7L1003 243.1L1003.5 241.5L1003.7 240.9L1004 240L1004.5 238.5L1005 237L1005.5 235.6L1006 234.3L1006.4 233L1006.5 233L1007 231.7L1007.5 230.5L1008 229.3L1008.5 228.2L1009 227.2L1009.2 226.6L1009.5 226.1L1010 225.2L1010.5 224.2L1011 223.3L1011.5 222.5L1012 221.7L1012 221.6L1012.5 221L1013 220.3L1013.5 219.7L1014 219.1L1014.5 218.6L1014.8 218.2L1015 218.1L1015.5 217.6L1016 217.3L1016.5 216.9L1017 216.6L1017.5 216.4L1017.6 216.4L1018 216.2L1018.5 216.1L1019 216L1019.5 216L1020 216L1020.4 216.1L1020.5 216.1L1021 216.2L1021.5 216.4L1022 216.6L1022.5 216.9L1023 217.3L1023.1 217.4L1023.5 217.6L1024 218.1L1024.5 218.6L1025 219.1L1025.5 219.7L1025.9 220.3L1026 220.3L1026.5 221L1027 221.7L1027.5 222.5L1028 223.3L1028.5 224.2L1028.7 224.7L1029 225.2L1029.5 226.1L1030 227.2L1030.5 228.2L1031 229.3L1031.5 230.5L1031.5 230.6L1032 231.7L1032.5 233L1033 234.3L1033.5 235.6L1034 237L1034.3 237.9L1034.5 238.5L1035 240L1035.5 241.5L1036 243.1L1036.5 244.7L1037 246.3L1037 246.6L1037.5 248L1038 249.7L1038.5 251.5L1039 253.3L1039.5 255.2L1039.8 256.6L1040 257.1L1040.5 259L1041 261L1041.5 263L1042 265L1042.5 267.1L1042.6 267.8L1043 269.2L1043.5 271.4L1044 273.6L1044.5 275.8L1045 278L1045.4 280L1045.5 280.3L1046 282.6L1046.5 285L1047 287.3L1047.5 289.8L1048 292.2L1048.2 293.2L1048.5 294.7L1049 297.1L1049.5 299.7L1051 307.4L1053.7 322.2L1056.5 337.8L1059.3 353.8L1062.1 370.4L1064.9 387.2L1067.7 404.3L1070.4 421.6L1073.2 439L1076 456.4L1078.8 473.7L1081.6 491L1084.3 508L1087.1 524.9L1089.9 541.5L1092.7 557.8L1095.5 573.8L1098.3 589.5L1101 604.8L1103.8 619.7L1106.6 634.3L1109.4 648.4L1112.2 662.2L1114.9 675.6L1117.7 688.6L1120.5 701.2L1123.3 713.4L1126.1 725.2L1128.9 736.6L1131.6 747.7L1134.4 758.4L1137.2 768.7L1140 778.7L1142.8 788.4L1145.5 797.7L1148.3 806.7L1151.1 815.4L1153.9 823.8L1156.7 831.9L1159.5 839.8L1162.2 847.3L1165 854.7L1167.8 861.7L1170.6 868.5L1173.4 875.1L1176.2 881.5L1178.9 887.6L1181.7 893.6L1184.5 899.3L1187.3 904.9L1190.1 910.2L1192.8 915.4L1195.6 920.4L1198.4 925.3L1201.2 930L1204 934.5L1206.8 938.9L1209.5 943.2L1212.3 947.3L1215.1 951.3L1217.9 955.1L1220.7 958.9L1223.4 962.5L1226.2 966L1229 969.4L1231.8 972.7L1234.6 975.9L1237.4 979L1240.1 982L1242.9 985L1245.7 987.9L1248.5 990.7L1251.3 993.5L1254 996.1L1256.8 998.7L1259.6 1001.3L1262.4 1003.8L1265.2 1006.2L1268 1008.5L1270.7 1010.8L1273.5 1013L1276.3 1015.2L1279.1 1017.3L1281.9 1019.4L1284.6 1021.4L1287.4 1023.3L1290.2 1025.2L1293 1027.1L1295.8 1029L1298.6 1030.8L1301.3 1032.5L1304.1 1034.2L1306.9 1035.9L1309.7 1037.5L1312.5 1039L1315.2 1040.5L1318 1042L1320.8 1043.4L1323.6 1044.7L1326.4 1046.1L1329.2 1047.4L1331.9 1048.6L1334.7 1049.9L1337.5 1051.1L1340.3 1052.2L1343.1 1053.4L1345.9 1054.5L1348.6 1055.6L1351.4 1056.7L1354.2 1057.7L1357 1058.7L1359.8 1059.7L1362.5 1060.7L1365.3 1061.6L1368.1 1062.6L1370.9 1063.5L1373.7 1064.4L1376.5 1065.2L1379.2 1066.1L1382 1066.9L1384.8 1067.7L1387.6 1068.5L1390.4 1069.3L1393.1 1070L1395.9 1070.8L1398.7 1071.5L1401.5 1072.2L1404.3 1072.9L1407.1 1073.6L1409.8 1074.3L1412.6 1075L1415.4 1075.6L1418.2 1076.2L1421 1076.9L1423.7 1077.5L1426.5 1078.1L1429.3 1078.7L1432.1 1079.2L1434.9 1079.8L1437.7 1080.3L1440.4 1080.8L1443.2 1081.4L1446 1081.9L1448.8 1082.4L1451.6 1082.9L1454.3 1083.3L1457.1 1083.8L1459.9 1084.3L1462.7 1084.7L1465.5 1085.1L1468.3 1085.6L1471 1086L1473.8 1086.4L1476.6 1086.8L1479.4 1087.2L1482.2 1087.6L1485 1088L1487.7 1088.4L1490.5 1088.8L1493.3 1089.1L1496.1 1089.5L1498.9 1089.8L1501.6 1090.2L1504.4 1090.5L1507.2 1090.8L1510 1091.1L1512.8 1091.4L1515.6 1091.7L1518.3 1092L1521.1 1092.3L1523.9 1092.6L1526.7 1092.8L1529.5 1093.1L1532.2 1093.4L1535 1093.6L1537.8 1093.9L1540.6 1094.2L1543.4 1094.5L1546.2 1094.7L1548.9 1095L1551.7 1095.3L1554.5 1095.5L1557.3 1095.8L1560.1 1096L1562.8 1096.3L1565.6 1096.5L1568.4 1096.8L1571.2 1097L1574 1097.3L1576.8 1097.5L1579.5 1097.8L1582.3 1098L1585.1 1098.2L1587.9 1098.4L1590.7 1098.7L1593.5 1098.9L1596.2 1099.1L1599 1099.3L1601.8 1099.5L1604.6 1099.7L1607.4 1099.9L1610.1 1100.1L1612.9 1100.3L1615.7 1100.5L1618.5 1100.7L1621.3 1100.9L1624.1 1101.1L1626.8 1101.2L1629.6 1101.4L1632.4 1101.6L1635.2 1101.7L1638 1101.9L1640.7 1102L1643.5 1102.2L1646.3 1102.3L1649.1 1102.5L1651.9 1102.6L1654.7 1102.7L1657.4 1102.8L1660.2 1102.9L1663 1103L1663 1106.7L1660.2 1106.6L1657.4 1106.5L1654.7 1106.4L1651.9 1106.4L1649.1 1106.3L1646.3 1106.2L1643.5 1106.1L1640.7 1106L1638 1105.9L1635.2 1105.8L1632.4 1105.7L1629.6 1105.6L1626.8 1105.5L1624.1 1105.4L1621.3 1105.3L1618.5 1105.2L1615.7 1105.1L1612.9 1105L1610.1 1104.8L1607.4 1104.7L1604.6 1104.6L1601.8 1104.5L1599 1104.4L1596.2 1104.3L1593.5 1104.2L1590.7 1104.2L1587.9 1104.1L1585.1 1104L1582.3 1103.9L1579.5 1103.8L1576.8 1103.7L1574 1103.6L1571.2 1103.5L1568.4 1103.4L1565.6 1103.3L1562.8 1103.2L1560.1 1103.1L1557.3 1103L1554.5 1102.9L1551.7 1102.8L1548.9 1102.6L1546.2 1102.5L1543.4 1102.4L1540.6 1102.3L1537.8 1102.1L1535 1102L1532.2 1101.8L1529.5 1101.7L1526.7 1101.5L1523.9 1101.3L1521.1 1101.2L1518.3 1101L1515.6 1100.8L1512.8 1100.6L1510 1100.4L1507.2 1100.2L1504.4 1100L1501.6 1099.8L1498.9 1099.6L1496.1 1099.4L1493.3 1099.2L1490.5 1099L1487.7 1098.8L1485 1098.6L1482.2 1098.3L1479.4 1098.1L1476.6 1097.9L1473.8 1097.6L1471 1097.4L1468.3 1097.2L1465.5 1096.9L1462.7 1096.7L1459.9 1096.4L1457.1 1096.2L1454.3 1095.9L1451.6 1095.7L1448.8 1095.4L1446 1095.1L1443.2 1094.9L1440.4 1094.6L1437.7 1094.3L1434.9 1094L1432.1 1093.8L1429.3 1093.5L1426.5 1093.2L1423.7 1093L1421 1092.7L1418.2 1092.4L1415.4 1092.2L1412.6 1091.9L1409.8 1091.6L1407.1 1091.3L1404.3 1091L1401.5 1090.7L1398.7 1090.3L1395.9 1090L1393.1 1089.6L1390.4 1089.3L1387.6 1088.9L1384.8 1088.6L1382 1088.2L1379.2 1087.8L1376.5 1087.4L1373.7 1087L1370.9 1086.6L1368.1 1086.2L1365.3 1085.8L1362.5 1085.4L1359.8 1084.9L1357 1084.5L1354.2 1084L1351.4 1083.6L1348.6 1083.1L1345.9 1082.6L1343.1 1082.1L1340.3 1081.6L1337.5 1081.1L1334.7 1080.6L1331.9 1080L1329.2 1079.5L1326.4 1078.9L1323.6 1078.4L1320.8 1077.8L1318 1077.2L1315.2 1076.6L1312.5 1075.9L1309.7 1075.3L1306.9 1074.6L1304.1 1074L1301.3 1073.3L1298.6 1072.6L1295.8 1071.9L1293 1071.2L1290.2 1070.4L1287.4 1069.7L1284.6 1068.9L1281.9 1068.1L1279.1 1067.3L1276.3 1066.5L1273.5 1065.6L1270.7 1064.8L1268 1063.9L1265.2 1063L1262.4 1062.1L1259.6 1061.2L1256.8 1060.2L1254 1059.2L1251.3 1058.2L1248.5 1057.2L1245.7 1056.1L1242.9 1055.1L1240.1 1054L1237.4 1052.8L1234.6 1051.7L1231.8 1050.5L1229 1049.2L1226.2 1048L1223.4 1046.7L1220.7 1045.4L1217.9 1044.1L1215.1 1042.7L1212.3 1041.2L1209.5 1039.8L1206.8 1038.2L1204 1036.7L1201.2 1035L1198.4 1033.4L1195.6 1031.6L1192.8 1029.9L1190.1 1028.1L1187.3 1026.2L1184.5 1024.3L1181.7 1022.3L1178.9 1020.4L1176.2 1018.3L1173.4 1016.3L1170.6 1014.1L1167.8 1011.9L1165 1009.7L1162.2 1007.4L1159.5 1005L1156.7 1002.5L1153.9 1000L1151.1 997.4L1148.3 994.8L1145.5 992.1L1142.8 989.3L1140 986.5L1137.2 983.5L1134.4 980.5L1131.6 977.5L1128.9 974.3L1126.1 971.1L1123.3 967.7L1120.5 964.2L1117.7 960.7L1114.9 957L1112.2 953.2L1109.4 949.3L1106.6 945.2L1103.8 941L1101 936.7L1098.3 932.3L1095.5 927.6L1092.7 922.9L1089.9 917.9L1087.1 912.8L1084.3 907.6L1081.6 902.1L1078.8 896.5L1076 890.6L1073.2 884.6L1070.4 878.3L1067.7 871.9L1064.9 865.2L1062.1 858.2L1059.3 851L1056.5 843.6L1053.7 835.9L1051 827.9L1049.5 823.5L1049 822L1048.5 820.5L1048.2 819.6L1048 819L1047.5 817.5L1047 815.9L1046.5 814.4L1046 812.9L1045.5 811.3L1045.4 811.1L1045 809.7L1044.5 808.2L1044 806.6L1043.5 805L1043 803.4L1042.6 802.2L1042.5 801.7L1042 800.1L1041.5 798.5L1041 796.8L1040.5 795.2L1040 793.5L1039.8 793.1L1039.5 791.8L1039 790.1L1038.5 788.4L1038 786.7L1037.5 785L1037 783.6L1037 783.3L1036.5 781.5L1036 779.8L1035.5 778L1035 776.2L1034.5 774.4L1034.3 773.7L1034 772.6L1033.5 770.8L1033 769L1032.5 767.2L1032 765.3L1031.5 763.6L1031.5 763.5L1031 761.6L1030.5 759.7L1030 757.9L1029.5 756L1029 754.1L1028.7 753.1L1028.5 752.1L1028 750.2L1027.5 748.2L1027 746.3L1026.5 744.3L1026 742.3L1025.9 742.2L1025.5 740.3L1025 738.3L1024.5 736.3L1024 734.3L1023.5 732.3L1023.1 730.9L1023 730.2L1022.5 728.1L1022 726.1L1021.5 724L1021 721.9L1020.5 719.8L1020.4 719.3L1020 717.6L1019.5 715.5L1019 713.3L1018.5 711.2L1018 709L1017.6 707.3L1017.5 706.8L1017 704.6L1016.5 702.4L1016 700.2L1015.5 697.9L1015 695.7L1014.8 694.9L1014.5 693.4L1014 691.1L1013.5 688.8L1013 686.5L1012.5 684.2L1012 682.1L1012 681.9L1011.5 679.6L1011 677.2L1010.5 674.8L1010 672.5L1009.5 670.1L1009.2 668.9L1009 667.7L1008.5 665.2L1008 662.8L1007.5 660.4L1007 657.9L1006.5 655.4L1006.4 655.4L1006 653L1005.5 650.5L1005 648L1004.5 645.4L1004 642.9L1003.7 641.4L1003.5 640.4L1003 637.8L1002.5 635.2L1002 632.6L1001.5 630.1L1001 627.4L1000.9 627L1000.5 624.8L1000 622.2L999.5 619.5L999 616.9L998.5 614.2L998.1 612.3L998 611.5L997.5 608.8L997.3 608L997 606.1L996.8 605.3L996.5 603.4L996.3 602.5L996 600.7L995.8 599.8L995.5 597.9L995.3 597.2L995.3 597L995 595.2L994.8 594.3L994.5 592.4L994.3 591.5L994 589.6L993.8 588.7L993.5 586.9L993.3 585.9L993 584.1L992.8 583.1L992.5 581.7L992.5 581.2L992.3 580.3L992 578.4L991.8 577.5L991.5 575.6L991.3 574.7L991 572.7L990.8 571.8L990.5 569.9L990.3 569L990 567L989.8 566.1L989.8 565.8L989.5 564.1L989.3 563.2L988.8 560.3L988.3 557.4L987.8 554.5L987.3 551.6L987 549.7L986.8 548.7L986.3 545.7L985.8 542.8L985.3 539.8L984.8 536.8L984.3 533.9L984.2 533.2L983.8 530.9L983.3 527.9L982.8 524.9L982.3 521.9L981.8 518.8L981.4 516.5L981.3 515.8L980.8 512.8L980.3 509.7L979.8 506.7L979.3 503.6L978.8 500.6L978.6 499.5L978.3 497.5L977.8 494.4L977.3 491.4L976.8 488.3L976.3 485.2L975.8 482.4L975.8 482.1L975.3 479L974.8 475.9L974.3 472.8L973.8 469.7L973.3 466.6L973.1 465.1L972.8 463.4L972.3 460.3L971.8 457.2L971.3 454.1L970.8 451L970.3 447.8L970.3 447.7L969.8 444.7L969.3 441.6L968.8 438.4L968.3 435.3L967.8 432.2L967.5 430.3L967.3 429.1L966.8 432.2L966.3 435.3L965.8 438.4L965.3 441.6L964.8 444.7L964.7 445.2L964.3 447.8L963.8 451L963.3 454.1L962.8 457.2L962.3 460.3L961.9 462.6L961.8 463.4L961.3 466.6L960.8 469.7L960.3 472.8L959.8 475.9L959.3 479L959.2 479.9L958.8 482.1L958.3 485.2L957.8 488.3L957.3 491.4L956.8 494.4L956.4 497.1L956.3 497.5L955.8 500.6L955.3 503.6L954.8 506.7L954.3 509.7L953.8 512.8L953.6 514.1L953.3 515.8L952.8 518.8L952.3 521.9L951.8 524.9L951.3 527.9L950.8 530.8L950.8 530.9L950.3 533.9L949.8 536.8L949.3 539.8L948.8 542.8L948.3 545.7L948 547.3L947.8 548.7L947.3 551.6L946.8 554.5L946.3 557.4L945.8 560.3L945.3 563.2L945.2 563.5L945.1 564.1L944.8 566.1L944.6 567L944.3 569L944.1 569.9L943.8 571.8L943.6 572.7L943.3 574.7L943.1 575.6L942.8 577.5L942.6 578.4L942.5 579.4L942.3 580.3L942.1 581.2L941.8 583.1L941.6 584.1L941.3 585.9L941.1 586.9L940.8 588.7L940.6 589.6L940.3 591.5L940.1 592.4L939.8 594.3L939.7 595L939.6 595.2L939.3 597L939.1 597.9L938.8 599.8L938.6 600.7L938.3 602.5L938.1 603.4L937.8 605.3L937.6 606.1L937.3 608L937.1 608.8L936.9 610.1L936.6 611.5L936.1 614.2L935.6 616.9L935.1 619.5L934.6 622.2L934.1 624.8L934.1 624.9L933.6 627.4L933.1 630.1L932.6 632.6L932.1 635.2L931.6 637.8L931.3 639.4L931.1 640.4L930.6 642.9L930.1 645.4L929.6 648L929.1 650.5L928.6 653L928.6 653.4L928.1 655.4L927.6 657.9L927.1 660.4L926.6 662.8L926.1 665.2L925.8 667L925.6 667.7L925.1 670.1L924.6 672.5L924.1 674.8L923.6 677.2L923.1 679.6L923 680.3L922.6 681.9L922.1 684.2L921.6 686.5L921.1 688.8L920.6 691.1L920.2 693.1L920.1 693.4L919.6 695.7L919.1 697.9L918.6 700.2L918.1 702.4L917.6 704.6L917.4 705.5L917.1 706.8L916.6 709L916.1 711.2L915.6 713.3L915.1 715.5L914.6 717.6L914.6 717.6L914.1 719.8L913.6 721.9L913.1 724L912.6 726.1L912.1 728.1L911.9 729.3L911.6 730.2L911.1 732.3L910.6 734.3L910.1 736.3L909.6 738.3L909.1 740.3L909.1 740.6L908.6 742.3L908.1 744.3L907.6 746.3L907.1 748.2L906.6 750.2L906.3 751.5L906.1 752.1L905.6 754.1L905.1 756L904.6 757.9L904.1 759.7L903.6 761.6L903.5 762.1L903.1 763.5L902.6 765.3L902.1 767.2L901.6 769L901.1 770.8L900.7 772.3L900.6 772.6L900.1 774.4L899.6 776.2L899.1 778L898.6 779.8L898.1 781.5L898 782.2L897.6 783.3L897.1 785L896.6 786.7L896.1 788.4L895.6 790.1L895.2 791.7L895.1 791.8L894.6 793.5L894.1 795.2L893.6 796.8L893.1 798.5L892.6 800.1L892.4 800.9L892.1 801.7L891.6 803.4L891.1 805L890.6 806.6L890.1 808.2L889.6 809.7L889.6 809.8L889.1 811.3L888.6 812.9L888.1 814.4L887.6 815.9L887.1 817.5L886.8 818.4L886.6 819L886.1 820.5L885.6 822L885.1 823.5L884 826.7L881.3 834.8L878.5 842.5L875.7 850L872.9 857.2L870.1 864.2L867.3 870.9L864.6 877.4L861.8 883.7L859 889.8L856.2 895.6L853.4 901.3L850.7 906.8L847.9 912.1L845.1 917.2L842.3 922.2L839.5 927L836.7 931.6L834 936.1L831.2 940.4L828.4 944.6L825.6 948.7L822.8 952.6L820.1 956.5L817.3 960.2L814.5 963.7L811.7 967.2L808.9 970.6L806.1 973.8L803.4 977L800.6 980.1L797.8 983.1L795 986L792.2 988.9L789.5 991.7L786.7 994.4L783.9 997.1L781.1 999.7L778.3 1002.2L775.5 1004.6L772.8 1007L770 1009.3L767.2 1011.6L764.4 1013.8L761.6 1016L758.9 1018L756.1 1020.1L753.3 1022.1L750.5 1024L747.7 1025.9L744.9 1027.8L742.2 1029.6L739.4 1031.4L736.6 1033.1L733.8 1034.8L731 1036.4L728.2 1038L725.5 1039.6L722.7 1041L719.9 1042.5L717.1 1043.9L714.3 1045.2L711.6 1046.5L708.8 1047.8L706 1049.1L703.2 1050.3L700.4 1051.5L697.6 1052.7L694.9 1053.8L692.1 1054.9L689.3 1056L686.5 1057L683.7 1058.1L681 1059.1L678.2 1060.1L675.4 1061L672.6 1062L669.8 1062.9L667 1063.8L664.3 1064.7L661.5 1065.5L658.7 1066.4L655.9 1067.2L653.1 1068L650.4 1068.8L647.6 1069.6L644.8 1070.3L642 1071.1L639.2 1071.8L636.4 1072.5L633.7 1073.2L630.9 1073.9L628.1 1074.5L625.3 1075.2L622.5 1075.8L619.8 1076.5L617 1077.1L614.2 1077.7L611.4 1078.3L608.6 1078.9L605.8 1079.4L603.1 1080L600.3 1080.5L597.5 1081L594.7 1081.5L591.9 1082L589.1 1082.5L586.4 1083L583.6 1083.5L580.8 1084L578 1084.4L575.2 1084.9L572.5 1085.3L569.7 1085.7L566.9 1086.2L564.1 1086.6L561.3 1087L558.5 1087.4L555.8 1087.8L553 1088.1L550.2 1088.5L547.4 1088.9L544.6 1089.2L541.9 1089.6L539.1 1089.9L536.3 1090.3L533.5 1090.6L530.7 1090.9L527.9 1091.2L525.2 1091.5L522.4 1091.8L519.6 1092.1L516.8 1092.4L514 1092.7L511.3 1092.9L508.5 1093.2L505.7 1093.5L502.9 1093.7L500.1 1094L497.3 1094.3L494.6 1094.5L491.8 1094.8L489 1095.1L486.2 1095.4L483.4 1095.6L480.6 1095.9L477.9 1096.1L475.1 1096.4L472.3 1096.6L469.5 1096.9L466.7 1097.1L464 1097.4L461.2 1097.6L458.4 1097.8L455.6 1098.1L452.8 1098.3L450 1098.5L447.3 1098.7L444.5 1099L441.7 1099.2L438.9 1099.4L436.1 1099.6L433.4 1099.8L430.6 1100L427.8 1100.2L425 1100.4L422.2 1100.6L419.4 1100.8L416.7 1101L413.9 1101.1L411.1 1101.3L408.3 1101.5L405.5 1101.6L402.8 1101.8L400 1102L397.2 1102.1L394.4 1102.2L391.6 1102.4L388.8 1102.5L386.1 1102.6L383.3 1102.7L380.5 1102.9L377.7 1103L374.9 1103.1L372.2 1103.2L369.4 1103.3L366.6 1103.4L363.8 1103.5L361 1103.6L358.2 1103.7L355.5 1103.8L352.7 1103.9L349.9 1104L347.1 1104L344.3 1104.1L341.6 1104.2L338.8 1104.3L336 1104.4L333.2 1104.5L330.4 1104.6L327.6 1104.7L324.9 1104.8L322.1 1104.9L319.3 1105L316.5 1105.2L313.7 1105.3L310.9 1105.4L308.2 1105.5L305.4 1105.6L302.6 1105.7L299.8 1105.8L297 1105.9L294.3 1106L291.5 1106.1L288.7 1106.2L285.9 1106.2L283.1 1106.3L280.3 1106.4L277.6 1106.5L274.8 1106.6L272 1106.7Z" fill="#f78f3d" stroke="#f78f3d" stroke-width="9.60" stroke-linejoin="round" shape-rendering="crispEdges"/>
<path d="M272 1104.2L274.8 1104.1L277.6 1104L280.3 1104L283.1 1103.9L285.9 1103.8L288.7 1103.7L291.5 1103.6L294.3 1103.5L297 1103.4L299.8 1103.3L302.6 1103.2L305.4 1103.1L308.2 1103L310.9 1102.9L313.7 1102.7L316.5 1102.6L319.3 1102.5L322.1 1102.4L324.9 1102.2L327.6 1102.1L330.4 1102L333.2 1101.8L336 1101.6L338.8 1101.5L341.6 1101.3L344.3 1101.1L347.1 1101L349.9 1100.8L352.7 1100.6L355.5 1100.4L358.2 1100.2L361 1100L363.8 1099.8L366.6 1099.6L369.4 1099.4L372.2 1099.2L374.9 1099L377.7 1098.7L380.5 1098.5L383.3 1098.3L386.1 1098.1L388.8 1097.8L391.6 1097.6L394.4 1097.4L397.2 1097.1L400 1096.9L402.8 1096.6L405.5 1096.4L408.3 1096.1L411.1 1095.9L413.9 1095.6L416.7 1095.4L419.4 1095.1L422.2 1094.8L425 1094.5L427.8 1094.3L430.6 1094L433.4 1093.7L436.1 1093.5L438.9 1093.2L441.7 1092.9L444.5 1092.7L447.3 1092.4L450 1092.1L452.8 1091.8L455.6 1091.5L458.4 1091.2L461.2 1090.9L464 1090.6L466.7 1090.3L469.5 1089.9L472.3 1089.6L475.1 1089.2L477.9 1088.9L480.6 1088.5L483.4 1088.1L486.2 1087.8L489 1087.4L491.8 1087L494.6 1086.6L497.3 1086.2L500.1 1085.7L502.9 1085.3L505.7 1084.9L508.5 1084.4L511.3 1084L514 1083.5L516.8 1083L519.6 1082.5L522.4 1082L525.2 1081.5L527.9 1081L530.7 1080.5L533.5 1080L536.3 1079.4L539.1 1078.9L541.9 1078.3L544.6 1077.7L547.4 1077.1L550.2 1076.5L553 1075.8L555.8 1075.2L558.5 1074.5L561.3 1073.9L564.1 1073.2L566.9 1072.5L569.7 1071.8L572.5 1071.1L575.2 1070.3L578 1069.6L580.8 1068.8L583.6 1068L586.4 1067.2L589.1 1066.4L591.9 1065.5L594.7 1064.7L597.5 1063.8L600.3 1062.9L603.1 1062L605.8 1061L608.6 1060.1L611.4 1059.1L614.2 1058.1L617 1057L619.8 1056L622.5 1054.9L625.3 1053.8L628.1 1052.7L630.9 1051.5L633.7 1050.3L636.4 1049.1L639.2 1047.8L642 1046.5L644.8 1045.2L647.6 1043.9L650.4 1042.5L653.1 1041L655.9 1039.6L658.7 1038L661.5 1036.4L664.3 1034.8L667 1033.1L669.8 1031.4L672.6 1029.6L675.4 1027.8L678.2 1025.9L681 1024L683.7 1022.1L686.5 1020.1L689.3 1018L692.1 1016L694.9 1013.8L697.6 1011.6L700.4 1009.3L703.2 1007L706 1004.6L708.8 1002.2L711.6 999.7L714.3 997.1L717.1 994.4L719.9 991.7L722.7 988.9L725.5 986L728.2 983.1L731 980.1L733.8 977L736.6 973.8L739.4 970.6L742.2 967.2L744.9 963.7L747.7 960.2L750.5 956.5L753.3 952.6L756.1 948.7L758.9 944.6L761.6 940.4L764.4 936.1L767.2 931.6L770 927L772.8 922.2L775.5 917.2L778.3 912.1L781.1 906.8L783.9 901.3L786.7 895.6L789.5 889.8L792.2 883.7L795 877.4L797.8 870.9L800.6 864.2L803.4 857.2L806.1 850L808.9 842.5L811.7 834.8L814.5 826.7L817.3 818.4L820.1 809.8L822.8 800.9L825.6 791.7L828.4 782.2L831.2 772.3L834 762.1L836.7 751.5L839.5 740.6L842.3 729.3L845.1 717.6L847.9 705.5L850.7 693.1L853.4 680.3L856.2 667L859 653.4L861.8 639.4L864.6 624.9L867.3 610.1L870.1 595L872.9 579.4L875.7 563.5L878.5 547.3L881.3 530.8L884 514.1L886.8 497.1L889.6 479.9L892.4 462.6L895.2 445.2L898 427.8L900.7 410.5L903.5 393.3L906.3 376.3L909.1 359.7L911.9 343.4L914.6 327.7L917.4 312.6L919.9 299.7L920.2 298.2L920.4 297.1L920.9 294.7L921.4 292.2L921.9 289.8L922.4 287.3L922.9 285L923 284.6L923.4 282.6L923.9 280.3L924.4 278L924.9 275.8L925.4 273.6L925.8 272L925.9 271.4L926.4 269.2L926.9 267.1L927.4 265L927.9 263L928.4 261L928.6 260.4L928.9 259L929.4 257.1L929.9 255.2L930.4 253.3L930.9 251.5L931.3 250L931.4 249.7L931.9 248L932.4 246.3L932.9 244.7L933.4 243.1L933.9 241.5L934.1 240.9L934.4 240L934.9 238.5L935.4 237L935.9 235.6L936.4 234.3L936.9 233L936.9 233L937.3 232L937.4 231.7L937.8 230.8L937.9 230.5L938.3 229.6L938.4 229.3L938.8 228.5L938.9 228.2L939.3 227.4L939.4 227.2L939.7 226.6L939.8 226.4L939.9 226.1L940.3 225.4L940.4 225.2L940.8 224.4L940.9 224.2L941.3 223.5L941.4 223.3L941.8 222.7L941.9 222.5L942.3 221.9L942.4 221.7L942.5 221.6L942.8 221.2L942.9 221L943.3 220.5L943.4 220.3L943.8 219.8L943.9 219.7L944.3 219.2L944.4 219.1L944.8 218.7L944.9 218.6L945.2 218.2L945.3 218.2L945.4 218.1L945.8 217.7L945.9 217.6L946.3 217.3L946.4 217.3L946.8 217L946.9 216.9L947.3 216.7L947.4 216.6L947.8 216.5L947.9 216.4L948 216.4L948.3 216.3L948.4 216.2L948.8 216.1L948.9 216.1L949.3 216L949.4 216L949.8 216L949.9 216L950.3 216L950.4 216L950.8 216.1L950.8 216.1L950.9 216.1L951.3 216.2L951.4 216.2L951.8 216.4L951.9 216.4L952.3 216.6L952.4 216.6L952.8 216.9L952.9 216.9L953.3 217.2L953.4 217.3L953.6 217.4L953.8 217.5L953.9 217.6L954.3 218L954.4 218.1L954.7 218.3L954.8 218.4L954.9 218.6L955.2 218.8L955.3 219L955.4 219.1L955.7 219.4L955.8 219.5L955.9 219.7L956.2 220L956.3 220.2L956.4 220.3L956.4 220.3L956.7 220.7L956.8 220.8L956.9 221L957.2 221.4L957.3 221.6L957.4 221.7L957.7 222.1L957.8 222.3L957.9 222.5L958.2 223L958.3 223.1L958.4 223.3L958.7 223.8L958.8 224L958.9 224.2L959.2 224.7L959.2 224.7L959.3 224.9L959.4 225.2L959.7 225.7L959.8 225.9L959.9 226.1L960.2 226.7L960.3 226.9L960.4 227.2L960.7 227.7L960.8 228L960.9 228.2L961.2 228.8L961.3 229.1L961.4 229.3L961.7 230L961.8 230.2L961.9 230.5L961.9 230.6L962.2 231.2L962.3 231.4L962.4 231.7L962.7 232.4L962.8 232.7L962.9 233L963.2 233.7L963.3 234L963.4 234.3L963.7 235L963.8 235.3L963.9 235.6L964.2 236.4L964.3 236.7L964.4 237L964.7 237.8L964.7 237.9L964.8 238.1L964.9 238.5L965.2 239.3L965.3 239.6L965.4 240L965.7 240.8L965.8 241.1L965.9 241.5L966.2 242.3L966.3 242.7L966.4 243.1L966.7 243.9L966.8 244.3L966.9 244.7L967.2 245.6L967.3 245.9L967.4 245.6L967.5 245.3L967.7 244.7L967.8 244.3L967.9 243.9L968.2 243.1L968.3 242.7L968.4 242.3L968.7 241.5L968.8 241.1L968.9 240.8L969.2 240L969.3 239.6L969.4 239.3L969.7 238.5L969.8 238.1L969.9 237.8L970.2 237L970.3 236.8L970.3 236.7L970.4 236.4L970.7 235.6L970.8 235.3L970.9 235L971.2 234.3L971.3 234L971.4 233.7L971.7 233L971.8 232.7L971.9 232.4L972.2 231.7L972.3 231.4L972.4 231.2L972.7 230.5L972.8 230.2L972.9 230L973.1 229.6L973.2 229.3L973.3 229.1L973.4 228.8L973.7 228.2L973.8 228L973.9 227.7L974.2 227.2L974.3 226.9L974.4 226.7L974.7 226.1L974.8 225.9L974.9 225.7L975.2 225.2L975.3 224.9L975.4 224.7L975.7 224.2L975.8 224L975.8 223.9L975.9 223.8L976.2 223.3L976.3 223.1L976.4 223L976.7 222.5L976.8 222.3L976.9 222.1L977.2 221.7L977.3 221.6L977.4 221.4L977.7 221L977.8 220.8L977.9 220.7L978.2 220.3L978.3 220.2L978.4 220L978.6 219.7L978.7 219.7L978.8 219.5L978.9 219.4L979.2 219.1L979.3 219L979.4 218.8L979.7 218.6L979.8 218.4L979.9 218.3L980.2 218.1L980.3 218L980.7 217.6L980.8 217.5L981.2 217.3L981.3 217.2L981.4 217.1L981.7 216.9L981.8 216.9L982.2 216.6L982.3 216.6L982.7 216.4L982.8 216.4L983.2 216.2L983.3 216.2L983.7 216.1L983.8 216.1L984.2 216L984.2 216L984.3 216L984.7 216L984.8 216L985.2 216L985.3 216L985.7 216.1L985.8 216.1L986.2 216.2L986.3 216.3L986.7 216.4L986.8 216.5L987 216.5L987.2 216.6L987.3 216.7L987.7 216.9L987.8 217L988.2 217.3L988.3 217.3L988.7 217.6L988.8 217.7L989.2 218.1L989.3 218.2L989.7 218.6L989.8 218.6L989.8 218.7L990.2 219.1L990.3 219.2L990.7 219.7L990.8 219.8L991.2 220.3L991.3 220.5L991.7 221L991.8 221.2L992.2 221.7L992.3 221.9L992.5 222.3L992.7 222.5L992.8 222.7L993.2 223.3L993.3 223.5L993.7 224.2L993.8 224.4L994.2 225.2L994.3 225.4L994.7 226.1L994.8 226.4L995.2 227.2L995.3 227.4L995.3 227.4L995.7 228.2L995.8 228.5L996.2 229.3L996.3 229.6L996.7 230.5L996.8 230.8L997.2 231.7L997.3 232L997.7 233L998.1 234.1L998.2 234.3L998.7 235.6L999.2 237L999.7 238.5L1000.2 240L1000.7 241.5L1000.9 242.1L1001.2 243.1L1001.7 244.7L1002.2 246.3L1002.7 248L1003.2 249.7L1003.7 251.4L1003.7 251.5L1004.2 253.3L1004.7 255.2L1005.2 257.1L1005.7 259L1006.2 261L1006.4 262L1006.7 263L1007.2 265L1007.7 267.1L1008.2 269.2L1008.7 271.4L1009.2 273.6L1009.2 273.8L1009.7 275.8L1010.2 278L1010.7 280.3L1011.2 282.6L1011.7 285L1012 286.5L1012.2 287.3L1012.7 289.8L1013.2 292.2L1013.7 294.7L1014.2 297.1L1014.7 299.7L1014.8 300.2L1017.6 314.7L1020.4 329.9L1023.1 345.7L1025.9 362L1028.7 378.8L1031.5 395.8L1034.3 413L1037 430.3L1039.8 447.7L1042.6 465.1L1045.4 482.4L1048.2 499.5L1051 516.5L1053.7 533.2L1056.5 549.7L1059.3 565.8L1062.1 581.7L1064.9 597.2L1067.7 612.3L1070.4 627L1073.2 641.4L1076 655.4L1078.8 668.9L1081.6 682.1L1084.3 694.9L1087.1 707.3L1089.9 719.3L1092.7 730.9L1095.5 742.2L1098.3 753.1L1101 763.6L1103.8 773.7L1106.6 783.6L1109.4 793.1L1112.2 802.2L1114.9 811.1L1117.7 819.6L1120.5 827.9L1123.3 835.9L1126.1 843.6L1128.9 851L1131.6 858.2L1134.4 865.2L1137.2 871.9L1140 878.3L1142.8 884.6L1145.5 890.6L1148.3 896.5L1151.1 902.1L1153.9 907.6L1156.7 912.8L1159.5 917.9L1162.2 922.9L1165 927.6L1167.8 932.3L1170.6 936.7L1173.4 941L1176.2 945.2L1178.9 949.3L1181.7 953.2L1184.5 957L1187.3 960.7L1190.1 964.2L1192.8 967.7L1195.6 971.1L1198.4 974.3L1201.2 977.5L1204 980.5L1206.8 983.5L1209.5 986.5L1212.3 989.3L1215.1 992.1L1217.9 994.8L1220.7 997.4L1223.4 1000L1226.2 1002.5L1229 1005L1231.8 1007.4L1234.6 1009.7L1237.4 1011.9L1240.1 1014.1L1242.9 1016.3L1245.7 1018.3L1248.5 1020.4L1251.3 1022.3L1254 1024.3L1256.8 1026.2L1259.6 1028.1L1262.4 1029.9L1265.2 1031.6L1268 1033.4L1270.7 1035L1273.5 1036.7L1276.3 1038.2L1279.1 1039.8L1281.9 1041.2L1284.6 1042.7L1287.4 1044.1L1290.2 1045.4L1293 1046.7L1295.8 1048L1298.6 1049.2L1301.3 1050.5L1304.1 1051.7L1306.9 1052.8L1309.7 1054L1312.5 1055.1L1315.2 1056.1L1318 1057.2L1320.8 1058.2L1323.6 1059.2L1326.4 1060.2L1329.2 1061.2L1331.9 1062.1L1334.7 1063L1337.5 1063.9L1340.3 1064.8L1343.1 1065.6L1345.9 1066.5L1348.6 1067.3L1351.4 1068.1L1354.2 1068.9L1357 1069.7L1359.8 1070.4L1362.5 1071.2L1365.3 1071.9L1368.1 1072.6L1370.9 1073.3L1373.7 1074L1376.5 1074.6L1379.2 1075.3L1382 1075.9L1384.8 1076.6L1387.6 1077.2L1390.4 1077.8L1393.1 1078.4L1395.9 1078.9L1398.7 1079.5L1401.5 1080L1404.3 1080.6L1407.1 1081.1L1409.8 1081.6L1412.6 1082.1L1415.4 1082.6L1418.2 1083.1L1421 1083.6L1423.7 1084L1426.5 1084.5L1429.3 1084.9L1432.1 1085.4L1434.9 1085.8L1437.7 1086.2L1440.4 1086.6L1443.2 1087L1446 1087.4L1448.8 1087.8L1451.6 1088.2L1454.3 1088.6L1457.1 1088.9L1459.9 1089.3L1462.7 1089.6L1465.5 1090L1468.3 1090.3L1471 1090.7L1473.8 1091L1476.6 1091.3L1479.4 1091.6L1482.2 1091.9L1485 1092.2L1487.7 1092.4L1490.5 1092.7L1493.3 1093L1496.1 1093.2L1498.9 1093.5L1501.6 1093.8L1504.4 1094L1507.2 1094.3L1510 1094.6L1512.8 1094.9L1515.6 1095.1L1518.3 1095.4L1521.1 1095.7L1523.9 1095.9L1526.7 1096.2L1529.5 1096.4L1532.2 1096.7L1535 1096.9L1537.8 1097.2L1540.6 1097.4L1543.4 1097.6L1546.2 1097.9L1548.9 1098.1L1551.7 1098.3L1554.5 1098.6L1557.3 1098.8L1560.1 1099L1562.8 1099.2L1565.6 1099.4L1568.4 1099.6L1571.2 1099.8L1574 1100L1576.8 1100.2L1579.5 1100.4L1582.3 1100.6L1585.1 1100.8L1587.9 1101L1590.7 1101.2L1593.5 1101.3L1596.2 1101.5L1599 1101.7L1601.8 1101.8L1604.6 1102L1607.4 1102.1L1610.1 1102.3L1612.9 1102.4L1615.7 1102.5L1618.5 1102.6L1621.3 1102.8L1624.1 1102.9L1626.8 1103L1629.6 1103.1L1632.4 1103.2L1635.2 1103.3L1638 1103.4L1640.7 1103.5L1643.5 1103.6L1646.3 1103.7L1649.1 1103.8L1651.9 1103.9L1654.7 1104L1657.4 1104.1L1660.2 1104.2L1663 1104.2L1663 1105.5L1660.2 1105.4L1657.4 1105.3L1654.7 1105.2L1651.9 1105.1L1649.1 1105L1646.3 1104.9L1643.5 1104.8L1640.7 1104.7L1638 1104.6L1635.2 1104.5L1632.4 1104.4L1629.6 1104.3L1626.8 1104.2L1624.1 1104.1L1621.3 1104L1618.5 1103.9L1615.7 1103.8L1612.9 1103.7L1610.1 1103.6L1607.4 1103.5L1604.6 1103.4L1601.8 1103.4L1599 1103.2L1596.2 1103.1L1593.5 1103L1590.7 1102.9L1587.9 1102.8L1585.1 1102.7L1582.3 1102.6L1579.5 1102.5L1576.8 1102.3L1574 1102.2L1571.2 1102L1568.4 1101.9L1565.6 1101.7L1562.8 1101.6L1560.1 1101.4L1557.3 1101.2L1554.5 1101.1L1551.7 1100.9L1548.9 1100.7L1546.2 1100.5L1543.4 1100.3L1540.6 1100.1L1537.8 1099.9L1535 1099.7L1532.2 1099.5L1529.5 1099.3L1526.7 1099.1L1523.9 1098.9L1521.1 1098.7L1518.3 1098.4L1515.6 1098.2L1512.8 1098L1510 1097.8L1507.2 1097.5L1504.4 1097.3L1501.6 1097L1498.9 1096.8L1496.1 1096.5L1493.3 1096.3L1490.5 1096L1487.7 1095.8L1485 1095.5L1482.2 1095.3L1479.4 1095L1476.6 1094.7L1473.8 1094.5L1471 1094.2L1468.3 1093.9L1465.5 1093.6L1462.7 1093.4L1459.9 1093.1L1457.1 1092.8L1454.3 1092.6L1451.6 1092.3L1448.8 1092L1446 1091.7L1443.2 1091.4L1440.4 1091.1L1437.7 1090.8L1434.9 1090.5L1432.1 1090.2L1429.3 1089.8L1426.5 1089.5L1423.7 1089.1L1421 1088.8L1418.2 1088.4L1415.4 1088L1412.6 1087.6L1409.8 1087.2L1407.1 1086.8L1404.3 1086.4L1401.5 1086L1398.7 1085.6L1395.9 1085.1L1393.1 1084.7L1390.4 1084.3L1387.6 1083.8L1384.8 1083.3L1382 1082.9L1379.2 1082.4L1376.5 1081.9L1373.7 1081.4L1370.9 1080.8L1368.1 1080.3L1365.3 1079.8L1362.5 1079.2L1359.8 1078.7L1357 1078.1L1354.2 1077.5L1351.4 1076.9L1348.6 1076.2L1345.9 1075.6L1343.1 1075L1340.3 1074.3L1337.5 1073.6L1334.7 1072.9L1331.9 1072.2L1329.2 1071.5L1326.4 1070.8L1323.6 1070L1320.8 1069.3L1318 1068.5L1315.2 1067.7L1312.5 1066.9L1309.7 1066.1L1306.9 1065.2L1304.1 1064.4L1301.3 1063.5L1298.6 1062.6L1295.8 1061.6L1293 1060.7L1290.2 1059.7L1287.4 1058.7L1284.6 1057.7L1281.9 1056.7L1279.1 1055.6L1276.3 1054.5L1273.5 1053.4L1270.7 1052.2L1268 1051.1L1265.2 1049.9L1262.4 1048.6L1259.6 1047.4L1256.8 1046.1L1254 1044.7L1251.3 1043.4L1248.5 1042L1245.7 1040.5L1242.9 1039L1240.1 1037.5L1237.4 1035.9L1234.6 1034.2L1231.8 1032.5L1229 1030.8L1226.2 1029L1223.4 1027.1L1220.7 1025.2L1217.9 1023.3L1215.1 1021.4L1212.3 1019.4L1209.5 1017.3L1206.8 1015.2L1204 1013L1201.2 1010.8L1198.4 1008.5L1195.6 1006.2L1192.8 1003.8L1190.1 1001.3L1187.3 998.7L1184.5 996.1L1181.7 993.5L1178.9 990.7L1176.2 987.9L1173.4 985L1170.6 982L1167.8 979L1165 975.9L1162.2 972.7L1159.5 969.4L1156.7 966L1153.9 962.5L1151.1 958.9L1148.3 955.1L1145.5 951.3L1142.8 947.3L1140 943.2L1137.2 938.9L1134.4 934.5L1131.6 930L1128.9 925.3L1126.1 920.4L1123.3 915.4L1120.5 910.2L1117.7 904.9L1114.9 899.3L1112.2 893.6L1109.4 887.6L1106.6 881.5L1103.8 875.1L1101 868.5L1098.3 861.7L1095.5 854.7L1092.7 847.3L1089.9 839.8L1087.1 831.9L1084.3 823.8L1081.6 815.4L1078.8 806.7L1076 797.7L1073.2 788.4L1070.4 778.7L1067.7 768.7L1064.9 758.4L1062.1 747.7L1059.3 736.6L1056.5 725.2L1053.7 713.4L1051 701.2L1048.2 688.6L1045.4 675.6L1042.6 662.2L1039.8 648.4L1037 634.3L1034.3 619.7L1031.5 604.8L1028.7 589.5L1025.9 573.8L1023.1 557.8L1020.4 541.5L1017.6 524.9L1014.8 508L1014.7 507.4L1014.2 504.3L1013.7 501.3L1013.2 498.2L1012.7 495.1L1012.2 492.1L1012 491L1011.7 489L1011.2 485.9L1010.7 482.8L1010.2 479.7L1009.7 476.6L1009.2 473.7L1009.2 473.5L1008.7 470.4L1008.2 467.3L1007.7 464.1L1007.2 461L1006.7 457.9L1006.4 456.4L1006.2 454.8L1005.7 451.7L1005.2 448.5L1004.7 445.4L1004.2 442.3L1003.7 439.1L1003.7 439L1003.2 436L1002.7 432.9L1002.2 429.8L1001.7 426.7L1001.2 423.5L1000.9 421.6L1000.7 420.4L1000.2 417.3L999.7 414.2L999.2 411.1L998.7 408L998.2 404.9L998.1 404.3L997.7 401.8L997.3 399.4L997.2 398.7L996.8 396.3L996.7 395.6L996.3 393.2L996.2 392.5L995.8 390.2L995.7 389.5L995.3 387.2L995.3 387.1L995.2 386.4L994.8 384L994.7 383.4L994.3 381L994.2 380.3L993.8 378L993.7 377.3L993.3 374.9L993.2 374.3L992.8 371.9L992.7 371.3L992.5 370.4L992.3 368.9L992.2 368.3L991.8 365.9L991.7 365.3L991.3 363L991.2 362.3L990.8 360L990.7 359.3L990.3 357L990.2 356.4L989.8 354.1L989.8 353.8L989.7 353.4L989.3 351.2L989.2 350.5L988.8 348.3L988.7 347.6L988.3 345.4L988.2 344.7L987.8 342.5L987.7 341.8L987.3 339.6L987.2 339L987 337.8L986.8 336.8L986.7 336.1L986.3 333.9L986.2 333.3L985.8 331.1L985.7 330.5L985.3 328.3L985.2 327.7L984.8 325.6L984.7 324.9L984.3 322.8L984.2 322.2L984.2 322.2L983.8 320.1L983.7 319.5L983.3 317.4L983.2 316.8L982.8 314.7L982.7 314.1L982.3 312L982.2 311.4L981.8 309.4L981.7 308.8L981.4 307.4L981.3 306.8L981.2 306.2L980.8 304.2L980.7 303.6L980.3 301.6L980.2 301.1L979.9 299.7L979.8 299.1L979.7 298.5L979.4 297.1L979.3 296.6L979.2 296L978.9 294.7L978.8 294.1L978.7 293.5L978.6 293.2L978.4 292.2L978.3 291.6L978.2 291.1L977.9 289.8L977.8 289.2L977.7 288.7L977.4 287.3L977.3 286.8L977.2 286.3L976.9 285L976.8 284.4L976.7 283.9L976.4 282.6L976.3 282.1L976.2 281.6L975.9 280.3L975.8 280L975.8 279.8L975.7 279.3L975.4 278L975.3 277.5L975.2 277L974.9 275.8L974.8 275.3L974.7 274.8L974.4 273.6L974.3 273.1L974.2 272.6L973.9 271.4L973.8 270.9L973.7 270.4L973.4 269.2L973.3 268.8L973.2 268.3L973.1 267.8L972.9 267.1L972.8 266.6L972.7 266.2L972.4 265L972.3 264.6L972.2 264.1L971.9 263L971.8 262.5L971.7 262.1L971.4 261L971.3 260.5L971.2 260.1L970.9 259L970.8 258.6L970.7 258.1L970.4 257.1L970.3 256.7L970.3 256.6L970.2 256.2L969.9 255.2L969.8 254.8L969.7 254.4L969.4 253.3L969.3 252.9L969.2 252.5L968.9 251.5L968.8 251.1L968.7 250.7L968.4 249.7L968.3 249.4L968.2 249L967.9 248L967.8 247.6L967.7 247.2L967.5 246.6L967.4 246.3L967.3 245.9L967.2 246.3L966.9 247.2L966.8 247.6L966.7 248L966.4 249L966.3 249.4L966.2 249.7L965.9 250.7L965.8 251.1L965.7 251.5L965.4 252.5L965.3 252.9L965.2 253.3L964.9 254.4L964.8 254.8L964.7 255.1L964.7 255.2L964.4 256.2L964.3 256.7L964.2 257.1L963.9 258.1L963.8 258.6L963.7 259L963.4 260.1L963.3 260.5L963.2 261L962.9 262.1L962.8 262.5L962.7 263L962.4 264.1L962.3 264.6L962.2 265L961.9 266.1L961.9 266.2L961.8 266.6L961.7 267.1L961.4 268.3L961.3 268.8L961.2 269.2L960.9 270.4L960.8 270.9L960.7 271.4L960.4 272.6L960.3 273.1L960.2 273.6L959.9 274.8L959.8 275.3L959.7 275.8L959.4 277L959.3 277.5L959.2 278L959.2 278.2L958.9 279.3L958.8 279.8L958.7 280.3L958.4 281.6L958.3 282.1L958.2 282.6L957.9 283.9L957.8 284.4L957.7 285L957.4 286.3L957.3 286.8L957.2 287.3L956.9 288.7L956.8 289.2L956.7 289.8L956.4 291.1L956.4 291.3L956.3 291.6L956.2 292.2L955.9 293.5L955.8 294.1L955.7 294.7L955.4 296L955.3 296.6L955.2 297.1L954.9 298.5L954.8 299.1L954.7 299.7L954.4 301.1L954.3 301.6L953.9 303.6L953.8 304.2L953.6 305.3L953.4 306.2L953.3 306.8L952.9 308.8L952.8 309.4L952.4 311.4L952.3 312L951.9 314.1L951.8 314.7L951.4 316.8L951.3 317.4L950.9 319.5L950.8 320L950.8 320.1L950.4 322.2L950.3 322.8L949.9 324.9L949.8 325.6L949.4 327.7L949.3 328.3L948.9 330.5L948.8 331.1L948.4 333.3L948.3 333.9L948 335.5L947.9 336.1L947.8 336.8L947.4 339L947.3 339.6L946.9 341.8L946.8 342.5L946.4 344.7L946.3 345.4L945.9 347.6L945.8 348.3L945.4 350.5L945.3 351.2L945.2 351.5L944.9 353.4L944.8 354.1L944.4 356.4L944.3 357L943.9 359.3L943.8 360L943.4 362.3L943.3 363L942.9 365.3L942.8 365.9L942.5 368L942.4 368.3L942.3 368.9L941.9 371.3L941.8 371.9L941.4 374.3L941.3 374.9L940.9 377.3L940.8 378L940.4 380.3L940.3 381L939.9 383.4L939.8 384L939.7 384.8L939.4 386.4L939.3 387.1L938.9 389.5L938.8 390.2L938.4 392.5L938.3 393.2L937.9 395.6L937.8 396.3L937.4 398.7L937.3 399.4L936.9 401.8L936.9 401.9L936.4 404.9L935.9 408L935.4 411.1L934.9 414.2L934.4 417.3L934.1 419.1L933.9 420.4L933.4 423.5L932.9 426.7L932.4 429.8L931.9 432.9L931.4 436L931.3 436.5L930.9 439.1L930.4 442.3L929.9 445.4L929.4 448.5L928.9 451.7L928.6 453.9L928.4 454.8L927.9 457.9L927.4 461L926.9 464.1L926.4 467.3L925.9 470.4L925.8 471.3L925.4 473.5L924.9 476.6L924.4 479.7L923.9 482.8L923.4 485.9L923 488.5L922.9 489L922.4 492.1L921.9 495.1L921.4 498.2L920.9 501.3L920.4 504.3L920.2 505.6L919.9 507.4L917.4 522.5L914.6 539.1L911.9 555.5L909.1 571.5L906.3 587.2L903.5 602.6L900.7 617.6L898 632.2L895.2 646.4L892.4 660.2L889.6 673.7L886.8 686.7L884 699.4L881.3 711.6L878.5 723.5L875.7 735L872.9 746.1L870.1 756.8L867.3 767.2L864.6 777.3L861.8 787L859 796.4L856.2 805.4L853.4 814.2L850.7 822.6L847.9 830.8L845.1 838.7L842.3 846.3L839.5 853.6L836.7 860.7L834 867.6L831.2 874.2L828.4 880.6L825.6 886.8L822.8 892.7L820.1 898.5L817.3 904.1L814.5 909.5L811.7 914.7L808.9 919.7L806.1 924.6L803.4 929.3L800.6 933.9L797.8 938.3L795 942.5L792.2 946.7L789.5 950.7L786.7 954.6L783.9 958.3L781.1 962L778.3 965.5L775.5 968.9L772.8 972.2L770 975.4L767.2 978.6L764.4 981.6L761.6 984.6L758.9 987.5L756.1 990.3L753.3 993.1L750.5 995.7L747.7 998.4L744.9 1000.9L742.2 1003.4L739.4 1005.8L736.6 1008.2L733.8 1010.5L731 1012.7L728.2 1014.9L725.5 1017L722.7 1019.1L719.9 1021.1L717.1 1023L714.3 1025L711.6 1026.9L708.8 1028.7L706 1030.5L703.2 1032.3L700.4 1034L697.6 1035.6L694.9 1037.2L692.1 1038.8L689.3 1040.3L686.5 1041.8L683.7 1043.2L681 1044.5L678.2 1045.9L675.4 1047.2L672.6 1048.4L669.8 1049.7L667 1050.9L664.3 1052.1L661.5 1053.2L658.7 1054.3L655.9 1055.4L653.1 1056.5L650.4 1057.6L647.6 1058.6L644.8 1059.6L642 1060.6L639.2 1061.5L636.4 1062.4L633.7 1063.3L630.9 1064.2L628.1 1065.1L625.3 1065.9L622.5 1066.8L619.8 1067.6L617 1068.4L614.2 1069.2L611.4 1069.9L608.6 1070.7L605.8 1071.4L603.1 1072.1L600.3 1072.8L597.5 1073.5L594.7 1074.2L591.9 1074.9L589.1 1075.5L586.4 1076.2L583.6 1076.8L580.8 1077.4L578 1078L575.2 1078.6L572.5 1079.1L569.7 1079.7L566.9 1080.2L564.1 1080.8L561.3 1081.3L558.5 1081.8L555.8 1082.3L553 1082.8L550.2 1083.3L547.4 1083.7L544.6 1084.2L541.9 1084.6L539.1 1085.1L536.3 1085.5L533.5 1085.9L530.7 1086.4L527.9 1086.8L525.2 1087.2L522.4 1087.6L519.6 1088L516.8 1088.3L514 1088.7L511.3 1089.1L508.5 1089.4L505.7 1089.8L502.9 1090.1L500.1 1090.4L497.3 1090.8L494.6 1091.1L491.8 1091.4L489 1091.7L486.2 1092L483.4 1092.3L480.6 1092.5L477.9 1092.8L475.1 1093.1L472.3 1093.3L469.5 1093.6L466.7 1093.9L464 1094.1L461.2 1094.4L458.4 1094.7L455.6 1095L452.8 1095.2L450 1095.5L447.3 1095.7L444.5 1096L441.7 1096.3L438.9 1096.5L436.1 1096.8L433.4 1097L430.6 1097.2L427.8 1097.5L425 1097.7L422.2 1098L419.4 1098.2L416.7 1098.4L413.9 1098.6L411.1 1098.9L408.3 1099.1L405.5 1099.3L402.8 1099.5L400 1099.7L397.2 1099.9L394.4 1100.1L391.6 1100.3L388.8 1100.5L386.1 1100.7L383.3 1100.9L380.5 1101L377.7 1101.2L374.9 1101.4L372.2 1101.6L369.4 1101.7L366.6 1101.9L363.8 1102L361 1102.2L358.2 1102.3L355.5 1102.4L352.7 1102.6L349.9 1102.7L347.1 1102.8L344.3 1102.9L341.6 1103L338.8 1103.1L336 1103.2L333.2 1103.3L330.4 1103.4L327.6 1103.5L324.9 1103.6L322.1 1103.7L319.3 1103.8L316.5 1103.9L313.7 1104L310.9 1104.1L308.2 1104.2L305.4 1104.3L302.6 1104.4L299.8 1104.5L297 1104.6L294.3 1104.7L291.5 1104.8L288.7 1104.9L285.9 1105L283.1 1105.1L280.3 1105.2L277.6 1105.3L274.8 1105.4L272 1105.5Z" fill="#0072bd" stroke="#0072bd" stroke-width="9.60" stroke-linejoin="round" shape-rendering="crispEdges"/>
<text x="247.3" y="1157.0" text-anchor="end">1.7</text>
<text x="247.3" y="1012.9" text-anchor="end">1.9</text>
<text x="247.3" y="868.7" text-anchor="end">2.1</text>
<text x="247.3" y="724.6" text-anchor="end">2.3</text>
<text x="247.3" y="580.4" text-anchor="end">2.5</text>
<text x="247.3" y="436.3" text-anchor="end">2.7</text>
<text x="247.3" y="292.1" text-anchor="end">2.9</text>
<text x="270.5" y="1225.6" text-anchor="middle">-4</text>
<text x="444.4" y="1225.6" text-anchor="middle">-3</text>
<text x="618.2" y="1225.6" text-anchor="middle">-2</text>
<text x="792.1" y="1225.6" text-anchor="middle">-1</text>
<text x="967.5" y="1225.6" text-anchor="middle">0</text>
<text x="1140.9" y="1225.6" text-anchor="middle">1</text>
<text x="1314.8" y="1225.6" text-anchor="middle">2</text>
<text x="1488.6" y="1225.6" text-anchor="middle">3</text>
<text x="1662.5" y="1225.6" text-anchor="middle">4</text>
<text class="x" x="275.5" y="114.9">×</text>
<text x="332.5" y="102.8">10<tspan class="p" dx="0.0" dy="-38.0">-4</tspan></text>
<text class="x" x="1494.5" y="1358.7">×</text>
<text x="1551.5" y="1346.6">10<tspan class="p" dx="0.0" dy="-38.0">5</tspan></text>
<text x="830.0" y="1321.9">f<tspan class="s" dy="38.9">sag</tspan><tspan dy="-38.9"> (Hz)</tspan></text>
<text transform="translate(84.2 910.0) rotate(-90)">P<tspan class="s" dy="39.5">PD</tspan><tspan dy="-39.5"> (Normalized)</tspan></text>
<path d="M1124 153H1631V442H1124Z" fill="#262626" shape-rendering="crispEdges"/><path d="M1130 160H1625V436H1130Z" fill="#fff" shape-rendering="crispEdges"/>
<path d="M1139 203H1270V212H1139Z" fill="#9b2226" shape-rendering="crispEdges"/>
<text class="lg" x="1277.2" y="233.7">Ft=50KHz</text>
<path d="M1139 293H1270V303H1139Z" fill="#f78f3d" shape-rendering="crispEdges"/>
<text class="lg" x="1277.2" y="324.8">Ft=30KHz</text>
<path d="M1139 383H1270V393H1139Z" fill="#0072bd" shape-rendering="crispEdges"/>
<text class="lg" x="1277.2" y="415.9">Ft=10KHz</text>
</svg></body></html>
